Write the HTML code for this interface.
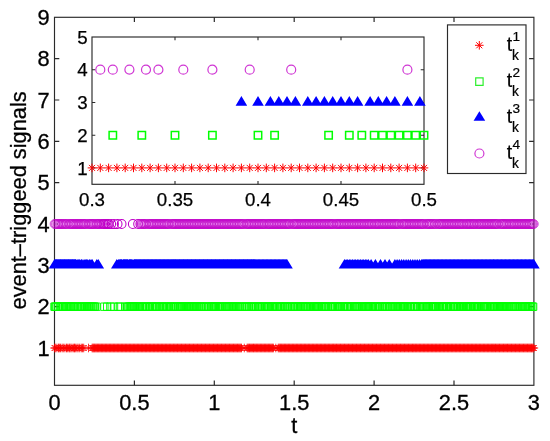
<!DOCTYPE html>
<html><head><meta charset="utf-8"><title>event-triggered signals</title>
<style>html,body{margin:0;padding:0;background:#fff;width:550px;height:441px;overflow:hidden}svg{display:block}</style>
</head><body>
<svg width="550" height="441" viewBox="0 0 550 441">
<rect width="550" height="441" fill="#fff"/>
<path d="M134.4 385.3v-4.8M134.4 17.3v4.8M214.3 385.3v-4.8M214.3 17.3v4.8M294.2 385.3v-4.8M294.2 17.3v4.8M374.1 385.3v-4.8M374.1 17.3v4.8M454 385.3v-4.8M454 17.3v4.8M54.5 348h4.8M533.9 348h-4.8M54.5 306.7h4.8M533.9 306.7h-4.8M54.5 265.3h4.8M533.9 265.3h-4.8M54.5 224h4.8M533.9 224h-4.8M54.5 182.7h4.8M533.9 182.7h-4.8M54.5 141.3h4.8M533.9 141.3h-4.8M54.5 100h4.8M533.9 100h-4.8M54.5 58.6h4.8M533.9 58.6h-4.8" fill="none" stroke="#2a2a2a" stroke-width="1.2"/>
<rect x="54.5" y="17.3" width="479.4" height="368" fill="none" stroke="#2a2a2a" stroke-width="1.15"/>
<path d="M50.1 224a4.4 4.4 0 1 0 8.8 0a4.4 4.4 0 1 0 -8.8 0M50.9 224a4.4 4.4 0 1 0 8.8 0a4.4 4.4 0 1 0 -8.8 0M51.7 224a4.4 4.4 0 1 0 8.8 0a4.4 4.4 0 1 0 -8.8 0M52.9 224a4.4 4.4 0 1 0 8.8 0a4.4 4.4 0 1 0 -8.8 0M53.7 224a4.4 4.4 0 1 0 8.8 0a4.4 4.4 0 1 0 -8.8 0M54.5 224a4.4 4.4 0 1 0 8.8 0a4.4 4.4 0 1 0 -8.8 0M55.3 224a4.4 4.4 0 1 0 8.8 0a4.4 4.4 0 1 0 -8.8 0M56.1 224a4.4 4.4 0 1 0 8.8 0a4.4 4.4 0 1 0 -8.8 0M56.9 224a4.4 4.4 0 1 0 8.8 0a4.4 4.4 0 1 0 -8.8 0M57.7 224a4.4 4.4 0 1 0 8.8 0a4.4 4.4 0 1 0 -8.8 0M58.5 224a4.4 4.4 0 1 0 8.8 0a4.4 4.4 0 1 0 -8.8 0M59.3 224a4.4 4.4 0 1 0 8.8 0a4.4 4.4 0 1 0 -8.8 0M60.5 224a4.4 4.4 0 1 0 8.8 0a4.4 4.4 0 1 0 -8.8 0M61.3 224a4.4 4.4 0 1 0 8.8 0a4.4 4.4 0 1 0 -8.8 0M62.1 224a4.4 4.4 0 1 0 8.8 0a4.4 4.4 0 1 0 -8.8 0M62.9 224a4.4 4.4 0 1 0 8.8 0a4.4 4.4 0 1 0 -8.8 0M64.5 224a4.4 4.4 0 1 0 8.8 0a4.4 4.4 0 1 0 -8.8 0M65.3 224a4.4 4.4 0 1 0 8.8 0a4.4 4.4 0 1 0 -8.8 0M66.1 224a4.4 4.4 0 1 0 8.8 0a4.4 4.4 0 1 0 -8.8 0M66.9 224a4.4 4.4 0 1 0 8.8 0a4.4 4.4 0 1 0 -8.8 0M67.7 224a4.4 4.4 0 1 0 8.8 0a4.4 4.4 0 1 0 -8.8 0M68.5 224a4.4 4.4 0 1 0 8.8 0a4.4 4.4 0 1 0 -8.8 0M69.3 224a4.4 4.4 0 1 0 8.8 0a4.4 4.4 0 1 0 -8.8 0M70.1 224a4.4 4.4 0 1 0 8.8 0a4.4 4.4 0 1 0 -8.8 0M70.9 224a4.4 4.4 0 1 0 8.8 0a4.4 4.4 0 1 0 -8.8 0M71.7 224a4.4 4.4 0 1 0 8.8 0a4.4 4.4 0 1 0 -8.8 0M72.5 224a4.4 4.4 0 1 0 8.8 0a4.4 4.4 0 1 0 -8.8 0M73.3 224a4.4 4.4 0 1 0 8.8 0a4.4 4.4 0 1 0 -8.8 0M74.1 224a4.4 4.4 0 1 0 8.8 0a4.4 4.4 0 1 0 -8.8 0M74.9 224a4.4 4.4 0 1 0 8.8 0a4.4 4.4 0 1 0 -8.8 0M75.7 224a4.4 4.4 0 1 0 8.8 0a4.4 4.4 0 1 0 -8.8 0M76.5 224a4.4 4.4 0 1 0 8.8 0a4.4 4.4 0 1 0 -8.8 0M77.3 224a4.4 4.4 0 1 0 8.8 0a4.4 4.4 0 1 0 -8.8 0M78.1 224a4.4 4.4 0 1 0 8.8 0a4.4 4.4 0 1 0 -8.8 0M78.9 224a4.4 4.4 0 1 0 8.8 0a4.4 4.4 0 1 0 -8.8 0M79.7 224a4.4 4.4 0 1 0 8.8 0a4.4 4.4 0 1 0 -8.8 0M80.5 224a4.4 4.4 0 1 0 8.8 0a4.4 4.4 0 1 0 -8.8 0M81.3 224a4.4 4.4 0 1 0 8.8 0a4.4 4.4 0 1 0 -8.8 0M82.1 224a4.4 4.4 0 1 0 8.8 0a4.4 4.4 0 1 0 -8.8 0M83.7 224a4.4 4.4 0 1 0 8.8 0a4.4 4.4 0 1 0 -8.8 0M84.5 224a4.4 4.4 0 1 0 8.8 0a4.4 4.4 0 1 0 -8.8 0M85.3 224a4.4 4.4 0 1 0 8.8 0a4.4 4.4 0 1 0 -8.8 0M86.1 224a4.4 4.4 0 1 0 8.8 0a4.4 4.4 0 1 0 -8.8 0M86.9 224a4.4 4.4 0 1 0 8.8 0a4.4 4.4 0 1 0 -8.8 0M87.7 224a4.4 4.4 0 1 0 8.8 0a4.4 4.4 0 1 0 -8.8 0M88.5 224a4.4 4.4 0 1 0 8.8 0a4.4 4.4 0 1 0 -8.8 0M89.3 224a4.4 4.4 0 1 0 8.8 0a4.4 4.4 0 1 0 -8.8 0M90 224a4.4 4.4 0 1 0 8.8 0a4.4 4.4 0 1 0 -8.8 0M91.2 224a4.4 4.4 0 1 0 8.8 0a4.4 4.4 0 1 0 -8.8 0M92 224a4.4 4.4 0 1 0 8.8 0a4.4 4.4 0 1 0 -8.8 0M92.8 224a4.4 4.4 0 1 0 8.8 0a4.4 4.4 0 1 0 -8.8 0M93.6 224a4.4 4.4 0 1 0 8.8 0a4.4 4.4 0 1 0 -8.8 0M94.4 224a4.4 4.4 0 1 0 8.8 0a4.4 4.4 0 1 0 -8.8 0M95.2 224a4.4 4.4 0 1 0 8.8 0a4.4 4.4 0 1 0 -8.8 0M96 224a4.4 4.4 0 1 0 8.8 0a4.4 4.4 0 1 0 -8.8 0M96.8 224a4.4 4.4 0 1 0 8.8 0a4.4 4.4 0 1 0 -8.8 0M97.6 224a4.4 4.4 0 1 0 8.8 0a4.4 4.4 0 1 0 -8.8 0M135.6 224a4.4 4.4 0 1 0 8.8 0a4.4 4.4 0 1 0 -8.8 0M136.4 224a4.4 4.4 0 1 0 8.8 0a4.4 4.4 0 1 0 -8.8 0M137.2 224a4.4 4.4 0 1 0 8.8 0a4.4 4.4 0 1 0 -8.8 0M138 224a4.4 4.4 0 1 0 8.8 0a4.4 4.4 0 1 0 -8.8 0M138.8 224a4.4 4.4 0 1 0 8.8 0a4.4 4.4 0 1 0 -8.8 0M139.6 224a4.4 4.4 0 1 0 8.8 0a4.4 4.4 0 1 0 -8.8 0M140.4 224a4.4 4.4 0 1 0 8.8 0a4.4 4.4 0 1 0 -8.8 0M141.2 224a4.4 4.4 0 1 0 8.8 0a4.4 4.4 0 1 0 -8.8 0M142 224a4.4 4.4 0 1 0 8.8 0a4.4 4.4 0 1 0 -8.8 0M143.6 224a4.4 4.4 0 1 0 8.8 0a4.4 4.4 0 1 0 -8.8 0M144.4 224a4.4 4.4 0 1 0 8.8 0a4.4 4.4 0 1 0 -8.8 0M145.2 224a4.4 4.4 0 1 0 8.8 0a4.4 4.4 0 1 0 -8.8 0M146 224a4.4 4.4 0 1 0 8.8 0a4.4 4.4 0 1 0 -8.8 0M146.8 224a4.4 4.4 0 1 0 8.8 0a4.4 4.4 0 1 0 -8.8 0M147.6 224a4.4 4.4 0 1 0 8.8 0a4.4 4.4 0 1 0 -8.8 0M148.4 224a4.4 4.4 0 1 0 8.8 0a4.4 4.4 0 1 0 -8.8 0M149.2 224a4.4 4.4 0 1 0 8.8 0a4.4 4.4 0 1 0 -8.8 0M150 224a4.4 4.4 0 1 0 8.8 0a4.4 4.4 0 1 0 -8.8 0M150.8 224a4.4 4.4 0 1 0 8.8 0a4.4 4.4 0 1 0 -8.8 0M151.6 224a4.4 4.4 0 1 0 8.8 0a4.4 4.4 0 1 0 -8.8 0M152.4 224a4.4 4.4 0 1 0 8.8 0a4.4 4.4 0 1 0 -8.8 0M153.2 224a4.4 4.4 0 1 0 8.8 0a4.4 4.4 0 1 0 -8.8 0M154 224a4.4 4.4 0 1 0 8.8 0a4.4 4.4 0 1 0 -8.8 0M154.8 224a4.4 4.4 0 1 0 8.8 0a4.4 4.4 0 1 0 -8.8 0M155.6 224a4.4 4.4 0 1 0 8.8 0a4.4 4.4 0 1 0 -8.8 0M156.4 224a4.4 4.4 0 1 0 8.8 0a4.4 4.4 0 1 0 -8.8 0M157.2 224a4.4 4.4 0 1 0 8.8 0a4.4 4.4 0 1 0 -8.8 0M158 224a4.4 4.4 0 1 0 8.8 0a4.4 4.4 0 1 0 -8.8 0M158.8 224a4.4 4.4 0 1 0 8.8 0a4.4 4.4 0 1 0 -8.8 0M159.6 224a4.4 4.4 0 1 0 8.8 0a4.4 4.4 0 1 0 -8.8 0M160.4 224a4.4 4.4 0 1 0 8.8 0a4.4 4.4 0 1 0 -8.8 0M161.2 224a4.4 4.4 0 1 0 8.8 0a4.4 4.4 0 1 0 -8.8 0M162 224a4.4 4.4 0 1 0 8.8 0a4.4 4.4 0 1 0 -8.8 0M162.8 224a4.4 4.4 0 1 0 8.8 0a4.4 4.4 0 1 0 -8.8 0M163.6 224a4.4 4.4 0 1 0 8.8 0a4.4 4.4 0 1 0 -8.8 0M164.4 224a4.4 4.4 0 1 0 8.8 0a4.4 4.4 0 1 0 -8.8 0M165.2 224a4.4 4.4 0 1 0 8.8 0a4.4 4.4 0 1 0 -8.8 0M166.8 224a4.4 4.4 0 1 0 8.8 0a4.4 4.4 0 1 0 -8.8 0M167.6 224a4.4 4.4 0 1 0 8.8 0a4.4 4.4 0 1 0 -8.8 0M168.4 224a4.4 4.4 0 1 0 8.8 0a4.4 4.4 0 1 0 -8.8 0M169.2 224a4.4 4.4 0 1 0 8.8 0a4.4 4.4 0 1 0 -8.8 0M169.9 224a4.4 4.4 0 1 0 8.8 0a4.4 4.4 0 1 0 -8.8 0M170.7 224a4.4 4.4 0 1 0 8.8 0a4.4 4.4 0 1 0 -8.8 0M171.5 224a4.4 4.4 0 1 0 8.8 0a4.4 4.4 0 1 0 -8.8 0M172.3 224a4.4 4.4 0 1 0 8.8 0a4.4 4.4 0 1 0 -8.8 0M173.1 224a4.4 4.4 0 1 0 8.8 0a4.4 4.4 0 1 0 -8.8 0M173.9 224a4.4 4.4 0 1 0 8.8 0a4.4 4.4 0 1 0 -8.8 0M174.7 224a4.4 4.4 0 1 0 8.8 0a4.4 4.4 0 1 0 -8.8 0M175.5 224a4.4 4.4 0 1 0 8.8 0a4.4 4.4 0 1 0 -8.8 0M176.3 224a4.4 4.4 0 1 0 8.8 0a4.4 4.4 0 1 0 -8.8 0M177.1 224a4.4 4.4 0 1 0 8.8 0a4.4 4.4 0 1 0 -8.8 0M177.9 224a4.4 4.4 0 1 0 8.8 0a4.4 4.4 0 1 0 -8.8 0M178.7 224a4.4 4.4 0 1 0 8.8 0a4.4 4.4 0 1 0 -8.8 0M179.5 224a4.4 4.4 0 1 0 8.8 0a4.4 4.4 0 1 0 -8.8 0M180.3 224a4.4 4.4 0 1 0 8.8 0a4.4 4.4 0 1 0 -8.8 0M181.1 224a4.4 4.4 0 1 0 8.8 0a4.4 4.4 0 1 0 -8.8 0M181.9 224a4.4 4.4 0 1 0 8.8 0a4.4 4.4 0 1 0 -8.8 0M182.7 224a4.4 4.4 0 1 0 8.8 0a4.4 4.4 0 1 0 -8.8 0M183.5 224a4.4 4.4 0 1 0 8.8 0a4.4 4.4 0 1 0 -8.8 0M184.3 224a4.4 4.4 0 1 0 8.8 0a4.4 4.4 0 1 0 -8.8 0M185.1 224a4.4 4.4 0 1 0 8.8 0a4.4 4.4 0 1 0 -8.8 0M185.9 224a4.4 4.4 0 1 0 8.8 0a4.4 4.4 0 1 0 -8.8 0M186.7 224a4.4 4.4 0 1 0 8.8 0a4.4 4.4 0 1 0 -8.8 0M187.5 224a4.4 4.4 0 1 0 8.8 0a4.4 4.4 0 1 0 -8.8 0M188.3 224a4.4 4.4 0 1 0 8.8 0a4.4 4.4 0 1 0 -8.8 0M189.1 224a4.4 4.4 0 1 0 8.8 0a4.4 4.4 0 1 0 -8.8 0M189.9 224a4.4 4.4 0 1 0 8.8 0a4.4 4.4 0 1 0 -8.8 0M190.7 224a4.4 4.4 0 1 0 8.8 0a4.4 4.4 0 1 0 -8.8 0M191.5 224a4.4 4.4 0 1 0 8.8 0a4.4 4.4 0 1 0 -8.8 0M192.3 224a4.4 4.4 0 1 0 8.8 0a4.4 4.4 0 1 0 -8.8 0M193.1 224a4.4 4.4 0 1 0 8.8 0a4.4 4.4 0 1 0 -8.8 0M193.9 224a4.4 4.4 0 1 0 8.8 0a4.4 4.4 0 1 0 -8.8 0M194.7 224a4.4 4.4 0 1 0 8.8 0a4.4 4.4 0 1 0 -8.8 0M195.5 224a4.4 4.4 0 1 0 8.8 0a4.4 4.4 0 1 0 -8.8 0M196.3 224a4.4 4.4 0 1 0 8.8 0a4.4 4.4 0 1 0 -8.8 0M197.1 224a4.4 4.4 0 1 0 8.8 0a4.4 4.4 0 1 0 -8.8 0M197.9 224a4.4 4.4 0 1 0 8.8 0a4.4 4.4 0 1 0 -8.8 0M198.7 224a4.4 4.4 0 1 0 8.8 0a4.4 4.4 0 1 0 -8.8 0M199.5 224a4.4 4.4 0 1 0 8.8 0a4.4 4.4 0 1 0 -8.8 0M200.3 224a4.4 4.4 0 1 0 8.8 0a4.4 4.4 0 1 0 -8.8 0M201.1 224a4.4 4.4 0 1 0 8.8 0a4.4 4.4 0 1 0 -8.8 0M201.9 224a4.4 4.4 0 1 0 8.8 0a4.4 4.4 0 1 0 -8.8 0M202.7 224a4.4 4.4 0 1 0 8.8 0a4.4 4.4 0 1 0 -8.8 0M203.5 224a4.4 4.4 0 1 0 8.8 0a4.4 4.4 0 1 0 -8.8 0M204.3 224a4.4 4.4 0 1 0 8.8 0a4.4 4.4 0 1 0 -8.8 0M205.1 224a4.4 4.4 0 1 0 8.8 0a4.4 4.4 0 1 0 -8.8 0M205.9 224a4.4 4.4 0 1 0 8.8 0a4.4 4.4 0 1 0 -8.8 0M206.7 224a4.4 4.4 0 1 0 8.8 0a4.4 4.4 0 1 0 -8.8 0M207.5 224a4.4 4.4 0 1 0 8.8 0a4.4 4.4 0 1 0 -8.8 0M208.3 224a4.4 4.4 0 1 0 8.8 0a4.4 4.4 0 1 0 -8.8 0M209.1 224a4.4 4.4 0 1 0 8.8 0a4.4 4.4 0 1 0 -8.8 0M209.9 224a4.4 4.4 0 1 0 8.8 0a4.4 4.4 0 1 0 -8.8 0M210.7 224a4.4 4.4 0 1 0 8.8 0a4.4 4.4 0 1 0 -8.8 0M211.5 224a4.4 4.4 0 1 0 8.8 0a4.4 4.4 0 1 0 -8.8 0M212.3 224a4.4 4.4 0 1 0 8.8 0a4.4 4.4 0 1 0 -8.8 0M213.1 224a4.4 4.4 0 1 0 8.8 0a4.4 4.4 0 1 0 -8.8 0M213.9 224a4.4 4.4 0 1 0 8.8 0a4.4 4.4 0 1 0 -8.8 0M214.7 224a4.4 4.4 0 1 0 8.8 0a4.4 4.4 0 1 0 -8.8 0M215.5 224a4.4 4.4 0 1 0 8.8 0a4.4 4.4 0 1 0 -8.8 0M216.3 224a4.4 4.4 0 1 0 8.8 0a4.4 4.4 0 1 0 -8.8 0M217.1 224a4.4 4.4 0 1 0 8.8 0a4.4 4.4 0 1 0 -8.8 0M217.9 224a4.4 4.4 0 1 0 8.8 0a4.4 4.4 0 1 0 -8.8 0M218.7 224a4.4 4.4 0 1 0 8.8 0a4.4 4.4 0 1 0 -8.8 0M219.5 224a4.4 4.4 0 1 0 8.8 0a4.4 4.4 0 1 0 -8.8 0M220.3 224a4.4 4.4 0 1 0 8.8 0a4.4 4.4 0 1 0 -8.8 0M221.1 224a4.4 4.4 0 1 0 8.8 0a4.4 4.4 0 1 0 -8.8 0M221.9 224a4.4 4.4 0 1 0 8.8 0a4.4 4.4 0 1 0 -8.8 0M222.7 224a4.4 4.4 0 1 0 8.8 0a4.4 4.4 0 1 0 -8.8 0M223.5 224a4.4 4.4 0 1 0 8.8 0a4.4 4.4 0 1 0 -8.8 0M224.3 224a4.4 4.4 0 1 0 8.8 0a4.4 4.4 0 1 0 -8.8 0M225.1 224a4.4 4.4 0 1 0 8.8 0a4.4 4.4 0 1 0 -8.8 0M225.9 224a4.4 4.4 0 1 0 8.8 0a4.4 4.4 0 1 0 -8.8 0M226.7 224a4.4 4.4 0 1 0 8.8 0a4.4 4.4 0 1 0 -8.8 0M227.5 224a4.4 4.4 0 1 0 8.8 0a4.4 4.4 0 1 0 -8.8 0M228.3 224a4.4 4.4 0 1 0 8.8 0a4.4 4.4 0 1 0 -8.8 0M229.1 224a4.4 4.4 0 1 0 8.8 0a4.4 4.4 0 1 0 -8.8 0M229.9 224a4.4 4.4 0 1 0 8.8 0a4.4 4.4 0 1 0 -8.8 0M230.7 224a4.4 4.4 0 1 0 8.8 0a4.4 4.4 0 1 0 -8.8 0M231.5 224a4.4 4.4 0 1 0 8.8 0a4.4 4.4 0 1 0 -8.8 0M232.3 224a4.4 4.4 0 1 0 8.8 0a4.4 4.4 0 1 0 -8.8 0M233.1 224a4.4 4.4 0 1 0 8.8 0a4.4 4.4 0 1 0 -8.8 0M233.9 224a4.4 4.4 0 1 0 8.8 0a4.4 4.4 0 1 0 -8.8 0M234.7 224a4.4 4.4 0 1 0 8.8 0a4.4 4.4 0 1 0 -8.8 0M235.5 224a4.4 4.4 0 1 0 8.8 0a4.4 4.4 0 1 0 -8.8 0M236.3 224a4.4 4.4 0 1 0 8.8 0a4.4 4.4 0 1 0 -8.8 0M237.1 224a4.4 4.4 0 1 0 8.8 0a4.4 4.4 0 1 0 -8.8 0M237.9 224a4.4 4.4 0 1 0 8.8 0a4.4 4.4 0 1 0 -8.8 0M238.7 224a4.4 4.4 0 1 0 8.8 0a4.4 4.4 0 1 0 -8.8 0M239.5 224a4.4 4.4 0 1 0 8.8 0a4.4 4.4 0 1 0 -8.8 0M241.1 224a4.4 4.4 0 1 0 8.8 0a4.4 4.4 0 1 0 -8.8 0M241.9 224a4.4 4.4 0 1 0 8.8 0a4.4 4.4 0 1 0 -8.8 0M242.7 224a4.4 4.4 0 1 0 8.8 0a4.4 4.4 0 1 0 -8.8 0M243.5 224a4.4 4.4 0 1 0 8.8 0a4.4 4.4 0 1 0 -8.8 0M244.3 224a4.4 4.4 0 1 0 8.8 0a4.4 4.4 0 1 0 -8.8 0M245.1 224a4.4 4.4 0 1 0 8.8 0a4.4 4.4 0 1 0 -8.8 0M245.9 224a4.4 4.4 0 1 0 8.8 0a4.4 4.4 0 1 0 -8.8 0M246.7 224a4.4 4.4 0 1 0 8.8 0a4.4 4.4 0 1 0 -8.8 0M247.5 224a4.4 4.4 0 1 0 8.8 0a4.4 4.4 0 1 0 -8.8 0M248.3 224a4.4 4.4 0 1 0 8.8 0a4.4 4.4 0 1 0 -8.8 0M249.1 224a4.4 4.4 0 1 0 8.8 0a4.4 4.4 0 1 0 -8.8 0M249.8 224a4.4 4.4 0 1 0 8.8 0a4.4 4.4 0 1 0 -8.8 0M250.6 224a4.4 4.4 0 1 0 8.8 0a4.4 4.4 0 1 0 -8.8 0M251.4 224a4.4 4.4 0 1 0 8.8 0a4.4 4.4 0 1 0 -8.8 0M252.2 224a4.4 4.4 0 1 0 8.8 0a4.4 4.4 0 1 0 -8.8 0M253 224a4.4 4.4 0 1 0 8.8 0a4.4 4.4 0 1 0 -8.8 0M253.8 224a4.4 4.4 0 1 0 8.8 0a4.4 4.4 0 1 0 -8.8 0M254.6 224a4.4 4.4 0 1 0 8.8 0a4.4 4.4 0 1 0 -8.8 0M255.4 224a4.4 4.4 0 1 0 8.8 0a4.4 4.4 0 1 0 -8.8 0M256.2 224a4.4 4.4 0 1 0 8.8 0a4.4 4.4 0 1 0 -8.8 0M257 224a4.4 4.4 0 1 0 8.8 0a4.4 4.4 0 1 0 -8.8 0M257.8 224a4.4 4.4 0 1 0 8.8 0a4.4 4.4 0 1 0 -8.8 0M258.6 224a4.4 4.4 0 1 0 8.8 0a4.4 4.4 0 1 0 -8.8 0M259.4 224a4.4 4.4 0 1 0 8.8 0a4.4 4.4 0 1 0 -8.8 0M260.2 224a4.4 4.4 0 1 0 8.8 0a4.4 4.4 0 1 0 -8.8 0M261 224a4.4 4.4 0 1 0 8.8 0a4.4 4.4 0 1 0 -8.8 0M262.2 224a4.4 4.4 0 1 0 8.8 0a4.4 4.4 0 1 0 -8.8 0M263 224a4.4 4.4 0 1 0 8.8 0a4.4 4.4 0 1 0 -8.8 0M263.8 224a4.4 4.4 0 1 0 8.8 0a4.4 4.4 0 1 0 -8.8 0M264.6 224a4.4 4.4 0 1 0 8.8 0a4.4 4.4 0 1 0 -8.8 0M265.4 224a4.4 4.4 0 1 0 8.8 0a4.4 4.4 0 1 0 -8.8 0M266.2 224a4.4 4.4 0 1 0 8.8 0a4.4 4.4 0 1 0 -8.8 0M267 224a4.4 4.4 0 1 0 8.8 0a4.4 4.4 0 1 0 -8.8 0M267.8 224a4.4 4.4 0 1 0 8.8 0a4.4 4.4 0 1 0 -8.8 0M268.6 224a4.4 4.4 0 1 0 8.8 0a4.4 4.4 0 1 0 -8.8 0M269.4 224a4.4 4.4 0 1 0 8.8 0a4.4 4.4 0 1 0 -8.8 0M270.2 224a4.4 4.4 0 1 0 8.8 0a4.4 4.4 0 1 0 -8.8 0M271 224a4.4 4.4 0 1 0 8.8 0a4.4 4.4 0 1 0 -8.8 0M271.8 224a4.4 4.4 0 1 0 8.8 0a4.4 4.4 0 1 0 -8.8 0M272.6 224a4.4 4.4 0 1 0 8.8 0a4.4 4.4 0 1 0 -8.8 0M273.4 224a4.4 4.4 0 1 0 8.8 0a4.4 4.4 0 1 0 -8.8 0M274.2 224a4.4 4.4 0 1 0 8.8 0a4.4 4.4 0 1 0 -8.8 0M275 224a4.4 4.4 0 1 0 8.8 0a4.4 4.4 0 1 0 -8.8 0M275.8 224a4.4 4.4 0 1 0 8.8 0a4.4 4.4 0 1 0 -8.8 0M276.6 224a4.4 4.4 0 1 0 8.8 0a4.4 4.4 0 1 0 -8.8 0M277.4 224a4.4 4.4 0 1 0 8.8 0a4.4 4.4 0 1 0 -8.8 0M278.2 224a4.4 4.4 0 1 0 8.8 0a4.4 4.4 0 1 0 -8.8 0M279 224a4.4 4.4 0 1 0 8.8 0a4.4 4.4 0 1 0 -8.8 0M279.8 224a4.4 4.4 0 1 0 8.8 0a4.4 4.4 0 1 0 -8.8 0M280.6 224a4.4 4.4 0 1 0 8.8 0a4.4 4.4 0 1 0 -8.8 0M281.4 224a4.4 4.4 0 1 0 8.8 0a4.4 4.4 0 1 0 -8.8 0M282.2 224a4.4 4.4 0 1 0 8.8 0a4.4 4.4 0 1 0 -8.8 0M283 224a4.4 4.4 0 1 0 8.8 0a4.4 4.4 0 1 0 -8.8 0M283.8 224a4.4 4.4 0 1 0 8.8 0a4.4 4.4 0 1 0 -8.8 0M284.6 224a4.4 4.4 0 1 0 8.8 0a4.4 4.4 0 1 0 -8.8 0M285.4 224a4.4 4.4 0 1 0 8.8 0a4.4 4.4 0 1 0 -8.8 0M286.2 224a4.4 4.4 0 1 0 8.8 0a4.4 4.4 0 1 0 -8.8 0M287.8 224a4.4 4.4 0 1 0 8.8 0a4.4 4.4 0 1 0 -8.8 0M288.6 224a4.4 4.4 0 1 0 8.8 0a4.4 4.4 0 1 0 -8.8 0M289.4 224a4.4 4.4 0 1 0 8.8 0a4.4 4.4 0 1 0 -8.8 0M290.2 224a4.4 4.4 0 1 0 8.8 0a4.4 4.4 0 1 0 -8.8 0M291 224a4.4 4.4 0 1 0 8.8 0a4.4 4.4 0 1 0 -8.8 0M291.8 224a4.4 4.4 0 1 0 8.8 0a4.4 4.4 0 1 0 -8.8 0M292.6 224a4.4 4.4 0 1 0 8.8 0a4.4 4.4 0 1 0 -8.8 0M293.4 224a4.4 4.4 0 1 0 8.8 0a4.4 4.4 0 1 0 -8.8 0M294.2 224a4.4 4.4 0 1 0 8.8 0a4.4 4.4 0 1 0 -8.8 0M295 224a4.4 4.4 0 1 0 8.8 0a4.4 4.4 0 1 0 -8.8 0M295.8 224a4.4 4.4 0 1 0 8.8 0a4.4 4.4 0 1 0 -8.8 0M296.6 224a4.4 4.4 0 1 0 8.8 0a4.4 4.4 0 1 0 -8.8 0M297.4 224a4.4 4.4 0 1 0 8.8 0a4.4 4.4 0 1 0 -8.8 0M298.2 224a4.4 4.4 0 1 0 8.8 0a4.4 4.4 0 1 0 -8.8 0M299 224a4.4 4.4 0 1 0 8.8 0a4.4 4.4 0 1 0 -8.8 0M299.8 224a4.4 4.4 0 1 0 8.8 0a4.4 4.4 0 1 0 -8.8 0M300.6 224a4.4 4.4 0 1 0 8.8 0a4.4 4.4 0 1 0 -8.8 0M301.4 224a4.4 4.4 0 1 0 8.8 0a4.4 4.4 0 1 0 -8.8 0M302.2 224a4.4 4.4 0 1 0 8.8 0a4.4 4.4 0 1 0 -8.8 0M303 224a4.4 4.4 0 1 0 8.8 0a4.4 4.4 0 1 0 -8.8 0M303.8 224a4.4 4.4 0 1 0 8.8 0a4.4 4.4 0 1 0 -8.8 0M304.6 224a4.4 4.4 0 1 0 8.8 0a4.4 4.4 0 1 0 -8.8 0M305.4 224a4.4 4.4 0 1 0 8.8 0a4.4 4.4 0 1 0 -8.8 0M306.2 224a4.4 4.4 0 1 0 8.8 0a4.4 4.4 0 1 0 -8.8 0M307 224a4.4 4.4 0 1 0 8.8 0a4.4 4.4 0 1 0 -8.8 0M307.8 224a4.4 4.4 0 1 0 8.8 0a4.4 4.4 0 1 0 -8.8 0M308.6 224a4.4 4.4 0 1 0 8.8 0a4.4 4.4 0 1 0 -8.8 0M309.4 224a4.4 4.4 0 1 0 8.8 0a4.4 4.4 0 1 0 -8.8 0M310.2 224a4.4 4.4 0 1 0 8.8 0a4.4 4.4 0 1 0 -8.8 0M311 224a4.4 4.4 0 1 0 8.8 0a4.4 4.4 0 1 0 -8.8 0M311.8 224a4.4 4.4 0 1 0 8.8 0a4.4 4.4 0 1 0 -8.8 0M312.6 224a4.4 4.4 0 1 0 8.8 0a4.4 4.4 0 1 0 -8.8 0M313.4 224a4.4 4.4 0 1 0 8.8 0a4.4 4.4 0 1 0 -8.8 0M314.2 224a4.4 4.4 0 1 0 8.8 0a4.4 4.4 0 1 0 -8.8 0M315 224a4.4 4.4 0 1 0 8.8 0a4.4 4.4 0 1 0 -8.8 0M315.8 224a4.4 4.4 0 1 0 8.8 0a4.4 4.4 0 1 0 -8.8 0M316.6 224a4.4 4.4 0 1 0 8.8 0a4.4 4.4 0 1 0 -8.8 0M317.4 224a4.4 4.4 0 1 0 8.8 0a4.4 4.4 0 1 0 -8.8 0M318.2 224a4.4 4.4 0 1 0 8.8 0a4.4 4.4 0 1 0 -8.8 0M319 224a4.4 4.4 0 1 0 8.8 0a4.4 4.4 0 1 0 -8.8 0M319.8 224a4.4 4.4 0 1 0 8.8 0a4.4 4.4 0 1 0 -8.8 0M320.6 224a4.4 4.4 0 1 0 8.8 0a4.4 4.4 0 1 0 -8.8 0M321.4 224a4.4 4.4 0 1 0 8.8 0a4.4 4.4 0 1 0 -8.8 0M322.2 224a4.4 4.4 0 1 0 8.8 0a4.4 4.4 0 1 0 -8.8 0M323 224a4.4 4.4 0 1 0 8.8 0a4.4 4.4 0 1 0 -8.8 0M323.8 224a4.4 4.4 0 1 0 8.8 0a4.4 4.4 0 1 0 -8.8 0M324.6 224a4.4 4.4 0 1 0 8.8 0a4.4 4.4 0 1 0 -8.8 0M325.4 224a4.4 4.4 0 1 0 8.8 0a4.4 4.4 0 1 0 -8.8 0M326.2 224a4.4 4.4 0 1 0 8.8 0a4.4 4.4 0 1 0 -8.8 0M327 224a4.4 4.4 0 1 0 8.8 0a4.4 4.4 0 1 0 -8.8 0M327.8 224a4.4 4.4 0 1 0 8.8 0a4.4 4.4 0 1 0 -8.8 0M328.6 224a4.4 4.4 0 1 0 8.8 0a4.4 4.4 0 1 0 -8.8 0M329.4 224a4.4 4.4 0 1 0 8.8 0a4.4 4.4 0 1 0 -8.8 0M330.9 224a4.4 4.4 0 1 0 8.8 0a4.4 4.4 0 1 0 -8.8 0M331.7 224a4.4 4.4 0 1 0 8.8 0a4.4 4.4 0 1 0 -8.8 0M332.5 224a4.4 4.4 0 1 0 8.8 0a4.4 4.4 0 1 0 -8.8 0M333.3 224a4.4 4.4 0 1 0 8.8 0a4.4 4.4 0 1 0 -8.8 0M334.1 224a4.4 4.4 0 1 0 8.8 0a4.4 4.4 0 1 0 -8.8 0M334.9 224a4.4 4.4 0 1 0 8.8 0a4.4 4.4 0 1 0 -8.8 0M335.7 224a4.4 4.4 0 1 0 8.8 0a4.4 4.4 0 1 0 -8.8 0M336.5 224a4.4 4.4 0 1 0 8.8 0a4.4 4.4 0 1 0 -8.8 0M337.3 224a4.4 4.4 0 1 0 8.8 0a4.4 4.4 0 1 0 -8.8 0M338.1 224a4.4 4.4 0 1 0 8.8 0a4.4 4.4 0 1 0 -8.8 0M338.9 224a4.4 4.4 0 1 0 8.8 0a4.4 4.4 0 1 0 -8.8 0M339.7 224a4.4 4.4 0 1 0 8.8 0a4.4 4.4 0 1 0 -8.8 0M340.5 224a4.4 4.4 0 1 0 8.8 0a4.4 4.4 0 1 0 -8.8 0M341.3 224a4.4 4.4 0 1 0 8.8 0a4.4 4.4 0 1 0 -8.8 0M342.1 224a4.4 4.4 0 1 0 8.8 0a4.4 4.4 0 1 0 -8.8 0M342.9 224a4.4 4.4 0 1 0 8.8 0a4.4 4.4 0 1 0 -8.8 0M343.7 224a4.4 4.4 0 1 0 8.8 0a4.4 4.4 0 1 0 -8.8 0M344.5 224a4.4 4.4 0 1 0 8.8 0a4.4 4.4 0 1 0 -8.8 0M345.3 224a4.4 4.4 0 1 0 8.8 0a4.4 4.4 0 1 0 -8.8 0M346.1 224a4.4 4.4 0 1 0 8.8 0a4.4 4.4 0 1 0 -8.8 0M346.9 224a4.4 4.4 0 1 0 8.8 0a4.4 4.4 0 1 0 -8.8 0M347.7 224a4.4 4.4 0 1 0 8.8 0a4.4 4.4 0 1 0 -8.8 0M348.5 224a4.4 4.4 0 1 0 8.8 0a4.4 4.4 0 1 0 -8.8 0M349.3 224a4.4 4.4 0 1 0 8.8 0a4.4 4.4 0 1 0 -8.8 0M350.1 224a4.4 4.4 0 1 0 8.8 0a4.4 4.4 0 1 0 -8.8 0M350.9 224a4.4 4.4 0 1 0 8.8 0a4.4 4.4 0 1 0 -8.8 0M351.7 224a4.4 4.4 0 1 0 8.8 0a4.4 4.4 0 1 0 -8.8 0M352.5 224a4.4 4.4 0 1 0 8.8 0a4.4 4.4 0 1 0 -8.8 0M353.3 224a4.4 4.4 0 1 0 8.8 0a4.4 4.4 0 1 0 -8.8 0M354.1 224a4.4 4.4 0 1 0 8.8 0a4.4 4.4 0 1 0 -8.8 0M354.9 224a4.4 4.4 0 1 0 8.8 0a4.4 4.4 0 1 0 -8.8 0M355.7 224a4.4 4.4 0 1 0 8.8 0a4.4 4.4 0 1 0 -8.8 0M356.5 224a4.4 4.4 0 1 0 8.8 0a4.4 4.4 0 1 0 -8.8 0M357.3 224a4.4 4.4 0 1 0 8.8 0a4.4 4.4 0 1 0 -8.8 0M358.1 224a4.4 4.4 0 1 0 8.8 0a4.4 4.4 0 1 0 -8.8 0M358.9 224a4.4 4.4 0 1 0 8.8 0a4.4 4.4 0 1 0 -8.8 0M359.7 224a4.4 4.4 0 1 0 8.8 0a4.4 4.4 0 1 0 -8.8 0M360.5 224a4.4 4.4 0 1 0 8.8 0a4.4 4.4 0 1 0 -8.8 0M361.3 224a4.4 4.4 0 1 0 8.8 0a4.4 4.4 0 1 0 -8.8 0M362.1 224a4.4 4.4 0 1 0 8.8 0a4.4 4.4 0 1 0 -8.8 0M362.9 224a4.4 4.4 0 1 0 8.8 0a4.4 4.4 0 1 0 -8.8 0M363.7 224a4.4 4.4 0 1 0 8.8 0a4.4 4.4 0 1 0 -8.8 0M364.5 224a4.4 4.4 0 1 0 8.8 0a4.4 4.4 0 1 0 -8.8 0M365.3 224a4.4 4.4 0 1 0 8.8 0a4.4 4.4 0 1 0 -8.8 0M366.1 224a4.4 4.4 0 1 0 8.8 0a4.4 4.4 0 1 0 -8.8 0M366.9 224a4.4 4.4 0 1 0 8.8 0a4.4 4.4 0 1 0 -8.8 0M367.7 224a4.4 4.4 0 1 0 8.8 0a4.4 4.4 0 1 0 -8.8 0M368.5 224a4.4 4.4 0 1 0 8.8 0a4.4 4.4 0 1 0 -8.8 0M369.7 224a4.4 4.4 0 1 0 8.8 0a4.4 4.4 0 1 0 -8.8 0M370.5 224a4.4 4.4 0 1 0 8.8 0a4.4 4.4 0 1 0 -8.8 0M371.3 224a4.4 4.4 0 1 0 8.8 0a4.4 4.4 0 1 0 -8.8 0M372.1 224a4.4 4.4 0 1 0 8.8 0a4.4 4.4 0 1 0 -8.8 0M372.9 224a4.4 4.4 0 1 0 8.8 0a4.4 4.4 0 1 0 -8.8 0M373.7 224a4.4 4.4 0 1 0 8.8 0a4.4 4.4 0 1 0 -8.8 0M374.5 224a4.4 4.4 0 1 0 8.8 0a4.4 4.4 0 1 0 -8.8 0M375.3 224a4.4 4.4 0 1 0 8.8 0a4.4 4.4 0 1 0 -8.8 0M376.1 224a4.4 4.4 0 1 0 8.8 0a4.4 4.4 0 1 0 -8.8 0M376.9 224a4.4 4.4 0 1 0 8.8 0a4.4 4.4 0 1 0 -8.8 0M377.7 224a4.4 4.4 0 1 0 8.8 0a4.4 4.4 0 1 0 -8.8 0M378.5 224a4.4 4.4 0 1 0 8.8 0a4.4 4.4 0 1 0 -8.8 0M379.3 224a4.4 4.4 0 1 0 8.8 0a4.4 4.4 0 1 0 -8.8 0M380.1 224a4.4 4.4 0 1 0 8.8 0a4.4 4.4 0 1 0 -8.8 0M380.9 224a4.4 4.4 0 1 0 8.8 0a4.4 4.4 0 1 0 -8.8 0M381.7 224a4.4 4.4 0 1 0 8.8 0a4.4 4.4 0 1 0 -8.8 0M382.5 224a4.4 4.4 0 1 0 8.8 0a4.4 4.4 0 1 0 -8.8 0M383.3 224a4.4 4.4 0 1 0 8.8 0a4.4 4.4 0 1 0 -8.8 0M384.1 224a4.4 4.4 0 1 0 8.8 0a4.4 4.4 0 1 0 -8.8 0M384.9 224a4.4 4.4 0 1 0 8.8 0a4.4 4.4 0 1 0 -8.8 0M385.7 224a4.4 4.4 0 1 0 8.8 0a4.4 4.4 0 1 0 -8.8 0M386.5 224a4.4 4.4 0 1 0 8.8 0a4.4 4.4 0 1 0 -8.8 0M387.3 224a4.4 4.4 0 1 0 8.8 0a4.4 4.4 0 1 0 -8.8 0M388.1 224a4.4 4.4 0 1 0 8.8 0a4.4 4.4 0 1 0 -8.8 0M388.9 224a4.4 4.4 0 1 0 8.8 0a4.4 4.4 0 1 0 -8.8 0M389.7 224a4.4 4.4 0 1 0 8.8 0a4.4 4.4 0 1 0 -8.8 0M390.5 224a4.4 4.4 0 1 0 8.8 0a4.4 4.4 0 1 0 -8.8 0M391.3 224a4.4 4.4 0 1 0 8.8 0a4.4 4.4 0 1 0 -8.8 0M392.1 224a4.4 4.4 0 1 0 8.8 0a4.4 4.4 0 1 0 -8.8 0M392.9 224a4.4 4.4 0 1 0 8.8 0a4.4 4.4 0 1 0 -8.8 0M393.7 224a4.4 4.4 0 1 0 8.8 0a4.4 4.4 0 1 0 -8.8 0M394.5 224a4.4 4.4 0 1 0 8.8 0a4.4 4.4 0 1 0 -8.8 0M395.3 224a4.4 4.4 0 1 0 8.8 0a4.4 4.4 0 1 0 -8.8 0M396.9 224a4.4 4.4 0 1 0 8.8 0a4.4 4.4 0 1 0 -8.8 0M397.7 224a4.4 4.4 0 1 0 8.8 0a4.4 4.4 0 1 0 -8.8 0M398.5 224a4.4 4.4 0 1 0 8.8 0a4.4 4.4 0 1 0 -8.8 0M399.3 224a4.4 4.4 0 1 0 8.8 0a4.4 4.4 0 1 0 -8.8 0M400.1 224a4.4 4.4 0 1 0 8.8 0a4.4 4.4 0 1 0 -8.8 0M400.9 224a4.4 4.4 0 1 0 8.8 0a4.4 4.4 0 1 0 -8.8 0M401.7 224a4.4 4.4 0 1 0 8.8 0a4.4 4.4 0 1 0 -8.8 0M402.5 224a4.4 4.4 0 1 0 8.8 0a4.4 4.4 0 1 0 -8.8 0M403.3 224a4.4 4.4 0 1 0 8.8 0a4.4 4.4 0 1 0 -8.8 0M404.1 224a4.4 4.4 0 1 0 8.8 0a4.4 4.4 0 1 0 -8.8 0M404.9 224a4.4 4.4 0 1 0 8.8 0a4.4 4.4 0 1 0 -8.8 0M405.7 224a4.4 4.4 0 1 0 8.8 0a4.4 4.4 0 1 0 -8.8 0M406.5 224a4.4 4.4 0 1 0 8.8 0a4.4 4.4 0 1 0 -8.8 0M407.3 224a4.4 4.4 0 1 0 8.8 0a4.4 4.4 0 1 0 -8.8 0M408.1 224a4.4 4.4 0 1 0 8.8 0a4.4 4.4 0 1 0 -8.8 0M408.9 224a4.4 4.4 0 1 0 8.8 0a4.4 4.4 0 1 0 -8.8 0M409.6 224a4.4 4.4 0 1 0 8.8 0a4.4 4.4 0 1 0 -8.8 0M410.4 224a4.4 4.4 0 1 0 8.8 0a4.4 4.4 0 1 0 -8.8 0M411.2 224a4.4 4.4 0 1 0 8.8 0a4.4 4.4 0 1 0 -8.8 0M412 224a4.4 4.4 0 1 0 8.8 0a4.4 4.4 0 1 0 -8.8 0M412.8 224a4.4 4.4 0 1 0 8.8 0a4.4 4.4 0 1 0 -8.8 0M413.6 224a4.4 4.4 0 1 0 8.8 0a4.4 4.4 0 1 0 -8.8 0M414.4 224a4.4 4.4 0 1 0 8.8 0a4.4 4.4 0 1 0 -8.8 0M415.2 224a4.4 4.4 0 1 0 8.8 0a4.4 4.4 0 1 0 -8.8 0M416 224a4.4 4.4 0 1 0 8.8 0a4.4 4.4 0 1 0 -8.8 0M416.8 224a4.4 4.4 0 1 0 8.8 0a4.4 4.4 0 1 0 -8.8 0M417.6 224a4.4 4.4 0 1 0 8.8 0a4.4 4.4 0 1 0 -8.8 0M418.4 224a4.4 4.4 0 1 0 8.8 0a4.4 4.4 0 1 0 -8.8 0M419.2 224a4.4 4.4 0 1 0 8.8 0a4.4 4.4 0 1 0 -8.8 0M420 224a4.4 4.4 0 1 0 8.8 0a4.4 4.4 0 1 0 -8.8 0M421.6 224a4.4 4.4 0 1 0 8.8 0a4.4 4.4 0 1 0 -8.8 0M422.4 224a4.4 4.4 0 1 0 8.8 0a4.4 4.4 0 1 0 -8.8 0M423.2 224a4.4 4.4 0 1 0 8.8 0a4.4 4.4 0 1 0 -8.8 0M424 224a4.4 4.4 0 1 0 8.8 0a4.4 4.4 0 1 0 -8.8 0M424.8 224a4.4 4.4 0 1 0 8.8 0a4.4 4.4 0 1 0 -8.8 0M425.6 224a4.4 4.4 0 1 0 8.8 0a4.4 4.4 0 1 0 -8.8 0M426.4 224a4.4 4.4 0 1 0 8.8 0a4.4 4.4 0 1 0 -8.8 0M427.2 224a4.4 4.4 0 1 0 8.8 0a4.4 4.4 0 1 0 -8.8 0M428 224a4.4 4.4 0 1 0 8.8 0a4.4 4.4 0 1 0 -8.8 0M428.8 224a4.4 4.4 0 1 0 8.8 0a4.4 4.4 0 1 0 -8.8 0M430 224a4.4 4.4 0 1 0 8.8 0a4.4 4.4 0 1 0 -8.8 0M430.8 224a4.4 4.4 0 1 0 8.8 0a4.4 4.4 0 1 0 -8.8 0M431.6 224a4.4 4.4 0 1 0 8.8 0a4.4 4.4 0 1 0 -8.8 0M433.2 224a4.4 4.4 0 1 0 8.8 0a4.4 4.4 0 1 0 -8.8 0M434 224a4.4 4.4 0 1 0 8.8 0a4.4 4.4 0 1 0 -8.8 0M434.8 224a4.4 4.4 0 1 0 8.8 0a4.4 4.4 0 1 0 -8.8 0M435.6 224a4.4 4.4 0 1 0 8.8 0a4.4 4.4 0 1 0 -8.8 0M436.4 224a4.4 4.4 0 1 0 8.8 0a4.4 4.4 0 1 0 -8.8 0M437.2 224a4.4 4.4 0 1 0 8.8 0a4.4 4.4 0 1 0 -8.8 0M438 224a4.4 4.4 0 1 0 8.8 0a4.4 4.4 0 1 0 -8.8 0M438.8 224a4.4 4.4 0 1 0 8.8 0a4.4 4.4 0 1 0 -8.8 0M439.6 224a4.4 4.4 0 1 0 8.8 0a4.4 4.4 0 1 0 -8.8 0M440.4 224a4.4 4.4 0 1 0 8.8 0a4.4 4.4 0 1 0 -8.8 0M441.2 224a4.4 4.4 0 1 0 8.8 0a4.4 4.4 0 1 0 -8.8 0M442 224a4.4 4.4 0 1 0 8.8 0a4.4 4.4 0 1 0 -8.8 0M442.8 224a4.4 4.4 0 1 0 8.8 0a4.4 4.4 0 1 0 -8.8 0M443.6 224a4.4 4.4 0 1 0 8.8 0a4.4 4.4 0 1 0 -8.8 0M444.4 224a4.4 4.4 0 1 0 8.8 0a4.4 4.4 0 1 0 -8.8 0M445.2 224a4.4 4.4 0 1 0 8.8 0a4.4 4.4 0 1 0 -8.8 0M446 224a4.4 4.4 0 1 0 8.8 0a4.4 4.4 0 1 0 -8.8 0M446.8 224a4.4 4.4 0 1 0 8.8 0a4.4 4.4 0 1 0 -8.8 0M447.6 224a4.4 4.4 0 1 0 8.8 0a4.4 4.4 0 1 0 -8.8 0M448.4 224a4.4 4.4 0 1 0 8.8 0a4.4 4.4 0 1 0 -8.8 0M449.2 224a4.4 4.4 0 1 0 8.8 0a4.4 4.4 0 1 0 -8.8 0M450 224a4.4 4.4 0 1 0 8.8 0a4.4 4.4 0 1 0 -8.8 0M450.8 224a4.4 4.4 0 1 0 8.8 0a4.4 4.4 0 1 0 -8.8 0M451.6 224a4.4 4.4 0 1 0 8.8 0a4.4 4.4 0 1 0 -8.8 0M452.4 224a4.4 4.4 0 1 0 8.8 0a4.4 4.4 0 1 0 -8.8 0M453.2 224a4.4 4.4 0 1 0 8.8 0a4.4 4.4 0 1 0 -8.8 0M454 224a4.4 4.4 0 1 0 8.8 0a4.4 4.4 0 1 0 -8.8 0M454.8 224a4.4 4.4 0 1 0 8.8 0a4.4 4.4 0 1 0 -8.8 0M455.6 224a4.4 4.4 0 1 0 8.8 0a4.4 4.4 0 1 0 -8.8 0M456.4 224a4.4 4.4 0 1 0 8.8 0a4.4 4.4 0 1 0 -8.8 0M457.2 224a4.4 4.4 0 1 0 8.8 0a4.4 4.4 0 1 0 -8.8 0M458 224a4.4 4.4 0 1 0 8.8 0a4.4 4.4 0 1 0 -8.8 0M458.8 224a4.4 4.4 0 1 0 8.8 0a4.4 4.4 0 1 0 -8.8 0M459.6 224a4.4 4.4 0 1 0 8.8 0a4.4 4.4 0 1 0 -8.8 0M460.8 224a4.4 4.4 0 1 0 8.8 0a4.4 4.4 0 1 0 -8.8 0M461.6 224a4.4 4.4 0 1 0 8.8 0a4.4 4.4 0 1 0 -8.8 0M462.4 224a4.4 4.4 0 1 0 8.8 0a4.4 4.4 0 1 0 -8.8 0M463.2 224a4.4 4.4 0 1 0 8.8 0a4.4 4.4 0 1 0 -8.8 0M464 224a4.4 4.4 0 1 0 8.8 0a4.4 4.4 0 1 0 -8.8 0M464.8 224a4.4 4.4 0 1 0 8.8 0a4.4 4.4 0 1 0 -8.8 0M465.6 224a4.4 4.4 0 1 0 8.8 0a4.4 4.4 0 1 0 -8.8 0M466.4 224a4.4 4.4 0 1 0 8.8 0a4.4 4.4 0 1 0 -8.8 0M467.2 224a4.4 4.4 0 1 0 8.8 0a4.4 4.4 0 1 0 -8.8 0M468 224a4.4 4.4 0 1 0 8.8 0a4.4 4.4 0 1 0 -8.8 0M468.8 224a4.4 4.4 0 1 0 8.8 0a4.4 4.4 0 1 0 -8.8 0M469.6 224a4.4 4.4 0 1 0 8.8 0a4.4 4.4 0 1 0 -8.8 0M470.4 224a4.4 4.4 0 1 0 8.8 0a4.4 4.4 0 1 0 -8.8 0M471.2 224a4.4 4.4 0 1 0 8.8 0a4.4 4.4 0 1 0 -8.8 0M472.4 224a4.4 4.4 0 1 0 8.8 0a4.4 4.4 0 1 0 -8.8 0M473.2 224a4.4 4.4 0 1 0 8.8 0a4.4 4.4 0 1 0 -8.8 0M474 224a4.4 4.4 0 1 0 8.8 0a4.4 4.4 0 1 0 -8.8 0M474.8 224a4.4 4.4 0 1 0 8.8 0a4.4 4.4 0 1 0 -8.8 0M475.6 224a4.4 4.4 0 1 0 8.8 0a4.4 4.4 0 1 0 -8.8 0M476.4 224a4.4 4.4 0 1 0 8.8 0a4.4 4.4 0 1 0 -8.8 0M477.2 224a4.4 4.4 0 1 0 8.8 0a4.4 4.4 0 1 0 -8.8 0M478 224a4.4 4.4 0 1 0 8.8 0a4.4 4.4 0 1 0 -8.8 0M478.8 224a4.4 4.4 0 1 0 8.8 0a4.4 4.4 0 1 0 -8.8 0M479.6 224a4.4 4.4 0 1 0 8.8 0a4.4 4.4 0 1 0 -8.8 0M480.4 224a4.4 4.4 0 1 0 8.8 0a4.4 4.4 0 1 0 -8.8 0M481.2 224a4.4 4.4 0 1 0 8.8 0a4.4 4.4 0 1 0 -8.8 0M482 224a4.4 4.4 0 1 0 8.8 0a4.4 4.4 0 1 0 -8.8 0M482.8 224a4.4 4.4 0 1 0 8.8 0a4.4 4.4 0 1 0 -8.8 0M483.6 224a4.4 4.4 0 1 0 8.8 0a4.4 4.4 0 1 0 -8.8 0M484.4 224a4.4 4.4 0 1 0 8.8 0a4.4 4.4 0 1 0 -8.8 0M485.2 224a4.4 4.4 0 1 0 8.8 0a4.4 4.4 0 1 0 -8.8 0M486 224a4.4 4.4 0 1 0 8.8 0a4.4 4.4 0 1 0 -8.8 0M486.8 224a4.4 4.4 0 1 0 8.8 0a4.4 4.4 0 1 0 -8.8 0M487.6 224a4.4 4.4 0 1 0 8.8 0a4.4 4.4 0 1 0 -8.8 0M488.4 224a4.4 4.4 0 1 0 8.8 0a4.4 4.4 0 1 0 -8.8 0M489.2 224a4.4 4.4 0 1 0 8.8 0a4.4 4.4 0 1 0 -8.8 0M489.9 224a4.4 4.4 0 1 0 8.8 0a4.4 4.4 0 1 0 -8.8 0M490.7 224a4.4 4.4 0 1 0 8.8 0a4.4 4.4 0 1 0 -8.8 0M491.5 224a4.4 4.4 0 1 0 8.8 0a4.4 4.4 0 1 0 -8.8 0M492.3 224a4.4 4.4 0 1 0 8.8 0a4.4 4.4 0 1 0 -8.8 0M493.1 224a4.4 4.4 0 1 0 8.8 0a4.4 4.4 0 1 0 -8.8 0M493.9 224a4.4 4.4 0 1 0 8.8 0a4.4 4.4 0 1 0 -8.8 0M495.5 224a4.4 4.4 0 1 0 8.8 0a4.4 4.4 0 1 0 -8.8 0M496.3 224a4.4 4.4 0 1 0 8.8 0a4.4 4.4 0 1 0 -8.8 0M497.1 224a4.4 4.4 0 1 0 8.8 0a4.4 4.4 0 1 0 -8.8 0M497.9 224a4.4 4.4 0 1 0 8.8 0a4.4 4.4 0 1 0 -8.8 0M498.7 224a4.4 4.4 0 1 0 8.8 0a4.4 4.4 0 1 0 -8.8 0M499.5 224a4.4 4.4 0 1 0 8.8 0a4.4 4.4 0 1 0 -8.8 0M500.3 224a4.4 4.4 0 1 0 8.8 0a4.4 4.4 0 1 0 -8.8 0M501.1 224a4.4 4.4 0 1 0 8.8 0a4.4 4.4 0 1 0 -8.8 0M501.9 224a4.4 4.4 0 1 0 8.8 0a4.4 4.4 0 1 0 -8.8 0M502.7 224a4.4 4.4 0 1 0 8.8 0a4.4 4.4 0 1 0 -8.8 0M503.5 224a4.4 4.4 0 1 0 8.8 0a4.4 4.4 0 1 0 -8.8 0M504.7 224a4.4 4.4 0 1 0 8.8 0a4.4 4.4 0 1 0 -8.8 0M505.5 224a4.4 4.4 0 1 0 8.8 0a4.4 4.4 0 1 0 -8.8 0M506.3 224a4.4 4.4 0 1 0 8.8 0a4.4 4.4 0 1 0 -8.8 0M507.1 224a4.4 4.4 0 1 0 8.8 0a4.4 4.4 0 1 0 -8.8 0M507.9 224a4.4 4.4 0 1 0 8.8 0a4.4 4.4 0 1 0 -8.8 0M508.7 224a4.4 4.4 0 1 0 8.8 0a4.4 4.4 0 1 0 -8.8 0M509.5 224a4.4 4.4 0 1 0 8.8 0a4.4 4.4 0 1 0 -8.8 0M510.3 224a4.4 4.4 0 1 0 8.8 0a4.4 4.4 0 1 0 -8.8 0M511.1 224a4.4 4.4 0 1 0 8.8 0a4.4 4.4 0 1 0 -8.8 0M511.9 224a4.4 4.4 0 1 0 8.8 0a4.4 4.4 0 1 0 -8.8 0M512.7 224a4.4 4.4 0 1 0 8.8 0a4.4 4.4 0 1 0 -8.8 0M513.5 224a4.4 4.4 0 1 0 8.8 0a4.4 4.4 0 1 0 -8.8 0M514.3 224a4.4 4.4 0 1 0 8.8 0a4.4 4.4 0 1 0 -8.8 0M515.1 224a4.4 4.4 0 1 0 8.8 0a4.4 4.4 0 1 0 -8.8 0M515.9 224a4.4 4.4 0 1 0 8.8 0a4.4 4.4 0 1 0 -8.8 0M516.7 224a4.4 4.4 0 1 0 8.8 0a4.4 4.4 0 1 0 -8.8 0M517.5 224a4.4 4.4 0 1 0 8.8 0a4.4 4.4 0 1 0 -8.8 0M518.3 224a4.4 4.4 0 1 0 8.8 0a4.4 4.4 0 1 0 -8.8 0M519.1 224a4.4 4.4 0 1 0 8.8 0a4.4 4.4 0 1 0 -8.8 0M519.9 224a4.4 4.4 0 1 0 8.8 0a4.4 4.4 0 1 0 -8.8 0M520.7 224a4.4 4.4 0 1 0 8.8 0a4.4 4.4 0 1 0 -8.8 0M521.5 224a4.4 4.4 0 1 0 8.8 0a4.4 4.4 0 1 0 -8.8 0M522.3 224a4.4 4.4 0 1 0 8.8 0a4.4 4.4 0 1 0 -8.8 0M523.1 224a4.4 4.4 0 1 0 8.8 0a4.4 4.4 0 1 0 -8.8 0M523.9 224a4.4 4.4 0 1 0 8.8 0a4.4 4.4 0 1 0 -8.8 0M524.7 224a4.4 4.4 0 1 0 8.8 0a4.4 4.4 0 1 0 -8.8 0M525.5 224a4.4 4.4 0 1 0 8.8 0a4.4 4.4 0 1 0 -8.8 0M526.3 224a4.4 4.4 0 1 0 8.8 0a4.4 4.4 0 1 0 -8.8 0M527.1 224a4.4 4.4 0 1 0 8.8 0a4.4 4.4 0 1 0 -8.8 0M527.9 224a4.4 4.4 0 1 0 8.8 0a4.4 4.4 0 1 0 -8.8 0M528.7 224a4.4 4.4 0 1 0 8.8 0a4.4 4.4 0 1 0 -8.8 0M529.5 224a4.4 4.4 0 1 0 8.8 0a4.4 4.4 0 1 0 -8.8 0" fill="none" stroke="#c000c8" stroke-width="0.6"/>
<path d="M98.8 224a4.4 4.4 0 1 0 8.8 0a4.4 4.4 0 1 0 -8.8 0M100 224a4.4 4.4 0 1 0 8.8 0a4.4 4.4 0 1 0 -8.8 0M101.6 224a4.4 4.4 0 1 0 8.8 0a4.4 4.4 0 1 0 -8.8 0M103.2 224a4.4 4.4 0 1 0 8.8 0a4.4 4.4 0 1 0 -8.8 0M104.4 224a4.4 4.4 0 1 0 8.8 0a4.4 4.4 0 1 0 -8.8 0M106.8 224a4.4 4.4 0 1 0 8.8 0a4.4 4.4 0 1 0 -8.8 0M109.6 224a4.4 4.4 0 1 0 8.8 0a4.4 4.4 0 1 0 -8.8 0M113.2 224a4.4 4.4 0 1 0 8.8 0a4.4 4.4 0 1 0 -8.8 0M117.2 224a4.4 4.4 0 1 0 8.8 0a4.4 4.4 0 1 0 -8.8 0M128.4 224a4.4 4.4 0 1 0 8.8 0a4.4 4.4 0 1 0 -8.8 0M133.7 224a4.4 4.4 0 1 0 8.8 0a4.4 4.4 0 1 0 -8.8 0" fill="none" stroke="#c000c8" stroke-width="1.05"/>
<path d="M55.5 224H100.6" stroke="#eea6f6" stroke-width="1.3" stroke-dasharray="1.2 1.3" opacity="0.85"/>
<path d="M141 224H532.9" stroke="#eea6f6" stroke-width="1.3" stroke-dasharray="1.2 1.3" opacity="0.85"/>
<path d="M54.5 258.9l5.8 9.6h-11.6zM55.3 258.9l5.8 9.6h-11.6zM56.1 258.9l5.8 9.6h-11.6zM56.9 258.9l5.8 9.6h-11.6zM57.7 258.9l5.8 9.6h-11.6zM58.5 258.9l5.8 9.6h-11.6zM59.3 258.9l5.8 9.6h-11.6zM60.1 258.9l5.8 9.6h-11.6zM60.9 258.9l5.8 9.6h-11.6zM61.7 258.9l5.8 9.6h-11.6zM62.5 258.9l5.8 9.6h-11.6zM63.3 258.9l5.8 9.6h-11.6zM64.1 258.9l5.8 9.6h-11.6zM64.9 258.9l5.8 9.6h-11.6zM65.7 258.9l5.8 9.6h-11.6zM66.5 258.9l5.8 9.6h-11.6zM67.3 258.9l5.8 9.6h-11.6zM68.1 258.9l5.8 9.6h-11.6zM68.9 258.9l5.8 9.6h-11.6zM69.7 258.9l5.8 9.6h-11.6zM70.5 258.9l5.8 9.6h-11.6zM71.3 258.9l5.8 9.6h-11.6zM72.1 258.9l5.8 9.6h-11.6zM72.9 258.9l5.8 9.6h-11.6zM73.7 258.9l5.8 9.6h-11.6zM74.5 258.9l5.8 9.6h-11.6zM75.3 258.9l5.8 9.6h-11.6zM75.8 258.9l5.8 9.6h-11.6zM77.1 258.9l5.8 9.6h-11.6zM78.3 258.9l5.8 9.6h-11.6zM79.5 258.9l5.8 9.6h-11.6zM81.1 258.9l5.8 9.6h-11.6zM82 258.9l5.8 9.6h-11.6zM84 258.9l5.8 9.6h-11.6zM85.2 258.9l5.8 9.6h-11.6zM86.5 258.9l5.8 9.6h-11.6zM87.8 258.9l5.8 9.6h-11.6zM89.5 258.9l5.8 9.6h-11.6zM91 258.9l5.8 9.6h-11.6zM92.2 258.9l5.8 9.6h-11.6zM96.8 258.9l5.8 9.6h-11.6zM98.3 258.9l5.8 9.6h-11.6zM116.8 258.9l5.8 9.6h-11.6zM118.4 258.9l5.8 9.6h-11.6zM119.6 258.9l5.8 9.6h-11.6zM120.4 258.9l5.8 9.6h-11.6zM121.2 258.9l5.8 9.6h-11.6zM122 258.9l5.8 9.6h-11.6zM123.2 258.9l5.8 9.6h-11.6zM124 258.9l5.8 9.6h-11.6zM124.8 258.9l5.8 9.6h-11.6zM125.6 258.9l5.8 9.6h-11.6zM126.4 258.9l5.8 9.6h-11.6zM127.2 258.9l5.8 9.6h-11.6zM128 258.9l5.8 9.6h-11.6zM129.2 258.9l5.8 9.6h-11.6zM130 258.9l5.8 9.6h-11.6zM130.8 258.9l5.8 9.6h-11.6zM131.6 258.9l5.8 9.6h-11.6zM132.8 258.9l5.8 9.6h-11.6zM134 258.9l5.8 9.6h-11.6zM134.4 258.9l5.8 9.6h-11.6zM135.2 258.9l5.8 9.6h-11.6zM136 258.9l5.8 9.6h-11.6zM136.8 258.9l5.8 9.6h-11.6zM137.6 258.9l5.8 9.6h-11.6zM138.4 258.9l5.8 9.6h-11.6zM139.2 258.9l5.8 9.6h-11.6zM140 258.9l5.8 9.6h-11.6zM140.8 258.9l5.8 9.6h-11.6zM141.6 258.9l5.8 9.6h-11.6zM142.4 258.9l5.8 9.6h-11.6zM143.2 258.9l5.8 9.6h-11.6zM144 258.9l5.8 9.6h-11.6zM144.8 258.9l5.8 9.6h-11.6zM145.6 258.9l5.8 9.6h-11.6zM146.4 258.9l5.8 9.6h-11.6zM147.2 258.9l5.8 9.6h-11.6zM148 258.9l5.8 9.6h-11.6zM148.8 258.9l5.8 9.6h-11.6zM149.6 258.9l5.8 9.6h-11.6zM150.4 258.9l5.8 9.6h-11.6zM151.2 258.9l5.8 9.6h-11.6zM152 258.9l5.8 9.6h-11.6zM152.8 258.9l5.8 9.6h-11.6zM153.6 258.9l5.8 9.6h-11.6zM154.4 258.9l5.8 9.6h-11.6zM155.2 258.9l5.8 9.6h-11.6zM156 258.9l5.8 9.6h-11.6zM156.8 258.9l5.8 9.6h-11.6zM157.6 258.9l5.8 9.6h-11.6zM158.4 258.9l5.8 9.6h-11.6zM159.2 258.9l5.8 9.6h-11.6zM160 258.9l5.8 9.6h-11.6zM160.8 258.9l5.8 9.6h-11.6zM161.6 258.9l5.8 9.6h-11.6zM162.4 258.9l5.8 9.6h-11.6zM163.2 258.9l5.8 9.6h-11.6zM164 258.9l5.8 9.6h-11.6zM164.8 258.9l5.8 9.6h-11.6zM165.6 258.9l5.8 9.6h-11.6zM166.4 258.9l5.8 9.6h-11.6zM167.2 258.9l5.8 9.6h-11.6zM168 258.9l5.8 9.6h-11.6zM168.8 258.9l5.8 9.6h-11.6zM169.6 258.9l5.8 9.6h-11.6zM170.4 258.9l5.8 9.6h-11.6zM171.2 258.9l5.8 9.6h-11.6zM172 258.9l5.8 9.6h-11.6zM172.8 258.9l5.8 9.6h-11.6zM173.6 258.9l5.8 9.6h-11.6zM174.3 258.9l5.8 9.6h-11.6zM175.1 258.9l5.8 9.6h-11.6zM175.9 258.9l5.8 9.6h-11.6zM176.7 258.9l5.8 9.6h-11.6zM177.5 258.9l5.8 9.6h-11.6zM178.3 258.9l5.8 9.6h-11.6zM179.1 258.9l5.8 9.6h-11.6zM179.9 258.9l5.8 9.6h-11.6zM180.7 258.9l5.8 9.6h-11.6zM181.5 258.9l5.8 9.6h-11.6zM182.3 258.9l5.8 9.6h-11.6zM183.1 258.9l5.8 9.6h-11.6zM183.9 258.9l5.8 9.6h-11.6zM184.7 258.9l5.8 9.6h-11.6zM185.5 258.9l5.8 9.6h-11.6zM186.3 258.9l5.8 9.6h-11.6zM187.1 258.9l5.8 9.6h-11.6zM187.9 258.9l5.8 9.6h-11.6zM188.7 258.9l5.8 9.6h-11.6zM189.5 258.9l5.8 9.6h-11.6zM190.3 258.9l5.8 9.6h-11.6zM191.1 258.9l5.8 9.6h-11.6zM191.9 258.9l5.8 9.6h-11.6zM192.7 258.9l5.8 9.6h-11.6zM193.5 258.9l5.8 9.6h-11.6zM194.3 258.9l5.8 9.6h-11.6zM195.1 258.9l5.8 9.6h-11.6zM195.9 258.9l5.8 9.6h-11.6zM196.7 258.9l5.8 9.6h-11.6zM197.5 258.9l5.8 9.6h-11.6zM198.3 258.9l5.8 9.6h-11.6zM199.1 258.9l5.8 9.6h-11.6zM199.9 258.9l5.8 9.6h-11.6zM200.7 258.9l5.8 9.6h-11.6zM201.5 258.9l5.8 9.6h-11.6zM202.3 258.9l5.8 9.6h-11.6zM203.1 258.9l5.8 9.6h-11.6zM203.9 258.9l5.8 9.6h-11.6zM204.7 258.9l5.8 9.6h-11.6zM205.5 258.9l5.8 9.6h-11.6zM206.3 258.9l5.8 9.6h-11.6zM207.1 258.9l5.8 9.6h-11.6zM207.9 258.9l5.8 9.6h-11.6zM208.7 258.9l5.8 9.6h-11.6zM209.5 258.9l5.8 9.6h-11.6zM210.3 258.9l5.8 9.6h-11.6zM211.1 258.9l5.8 9.6h-11.6zM211.9 258.9l5.8 9.6h-11.6zM212.7 258.9l5.8 9.6h-11.6zM213.5 258.9l5.8 9.6h-11.6zM214.3 258.9l5.8 9.6h-11.6zM215.1 258.9l5.8 9.6h-11.6zM215.9 258.9l5.8 9.6h-11.6zM216.7 258.9l5.8 9.6h-11.6zM217.5 258.9l5.8 9.6h-11.6zM218.3 258.9l5.8 9.6h-11.6zM219.1 258.9l5.8 9.6h-11.6zM219.9 258.9l5.8 9.6h-11.6zM220.7 258.9l5.8 9.6h-11.6zM221.5 258.9l5.8 9.6h-11.6zM222.3 258.9l5.8 9.6h-11.6zM223.1 258.9l5.8 9.6h-11.6zM223.9 258.9l5.8 9.6h-11.6zM224.7 258.9l5.8 9.6h-11.6zM225.5 258.9l5.8 9.6h-11.6zM226.3 258.9l5.8 9.6h-11.6zM227.1 258.9l5.8 9.6h-11.6zM227.9 258.9l5.8 9.6h-11.6zM228.7 258.9l5.8 9.6h-11.6zM229.5 258.9l5.8 9.6h-11.6zM230.3 258.9l5.8 9.6h-11.6zM231.1 258.9l5.8 9.6h-11.6zM231.9 258.9l5.8 9.6h-11.6zM232.7 258.9l5.8 9.6h-11.6zM233.5 258.9l5.8 9.6h-11.6zM234.3 258.9l5.8 9.6h-11.6zM235.1 258.9l5.8 9.6h-11.6zM235.9 258.9l5.8 9.6h-11.6zM236.7 258.9l5.8 9.6h-11.6zM237.5 258.9l5.8 9.6h-11.6zM238.3 258.9l5.8 9.6h-11.6zM239.1 258.9l5.8 9.6h-11.6zM239.9 258.9l5.8 9.6h-11.6zM240.7 258.9l5.8 9.6h-11.6zM241.5 258.9l5.8 9.6h-11.6zM242.3 258.9l5.8 9.6h-11.6zM243.1 258.9l5.8 9.6h-11.6zM243.9 258.9l5.8 9.6h-11.6zM244.7 258.9l5.8 9.6h-11.6zM245.5 258.9l5.8 9.6h-11.6zM246.3 258.9l5.8 9.6h-11.6zM247.1 258.9l5.8 9.6h-11.6zM247.9 258.9l5.8 9.6h-11.6zM248.7 258.9l5.8 9.6h-11.6zM249.5 258.9l5.8 9.6h-11.6zM250.3 258.9l5.8 9.6h-11.6zM251.1 258.9l5.8 9.6h-11.6zM251.9 258.9l5.8 9.6h-11.6zM252.7 258.9l5.8 9.6h-11.6zM253.5 258.9l5.8 9.6h-11.6zM254.2 258.9l5.8 9.6h-11.6zM255 258.9l5.8 9.6h-11.6zM255.8 258.9l5.8 9.6h-11.6zM256.6 258.9l5.8 9.6h-11.6zM257.4 258.9l5.8 9.6h-11.6zM258.2 258.9l5.8 9.6h-11.6zM259 258.9l5.8 9.6h-11.6zM259.8 258.9l5.8 9.6h-11.6zM260.6 258.9l5.8 9.6h-11.6zM261.4 258.9l5.8 9.6h-11.6zM262.2 258.9l5.8 9.6h-11.6zM263 258.9l5.8 9.6h-11.6zM263.8 258.9l5.8 9.6h-11.6zM264.6 258.9l5.8 9.6h-11.6zM265.4 258.9l5.8 9.6h-11.6zM266.2 258.9l5.8 9.6h-11.6zM267 258.9l5.8 9.6h-11.6zM267.8 258.9l5.8 9.6h-11.6zM268.6 258.9l5.8 9.6h-11.6zM269.4 258.9l5.8 9.6h-11.6zM270.2 258.9l5.8 9.6h-11.6zM271 258.9l5.8 9.6h-11.6zM271.8 258.9l5.8 9.6h-11.6zM272.6 258.9l5.8 9.6h-11.6zM273.4 258.9l5.8 9.6h-11.6zM274.2 258.9l5.8 9.6h-11.6zM275 258.9l5.8 9.6h-11.6zM275.8 258.9l5.8 9.6h-11.6zM276.6 258.9l5.8 9.6h-11.6zM277.4 258.9l5.8 9.6h-11.6zM278.2 258.9l5.8 9.6h-11.6zM279 258.9l5.8 9.6h-11.6zM279.8 258.9l5.8 9.6h-11.6zM280.6 258.9l5.8 9.6h-11.6zM281.4 258.9l5.8 9.6h-11.6zM282.2 258.9l5.8 9.6h-11.6zM283 258.9l5.8 9.6h-11.6zM283.8 258.9l5.8 9.6h-11.6zM284.6 258.9l5.8 9.6h-11.6zM285.4 258.9l5.8 9.6h-11.6zM286.2 258.9l5.8 9.6h-11.6zM287 258.9l5.8 9.6h-11.6zM344.5 258.9l5.8 9.6h-11.6zM346.1 258.9l5.8 9.6h-11.6zM347.7 258.9l5.8 9.6h-11.6zM349.3 258.9l5.8 9.6h-11.6zM350.9 258.9l5.8 9.6h-11.6zM352.5 258.9l5.8 9.6h-11.6zM354.1 258.9l5.8 9.6h-11.6zM355.7 258.9l5.8 9.6h-11.6zM357.3 258.9l5.8 9.6h-11.6zM358.9 258.9l5.8 9.6h-11.6zM360.5 258.9l5.8 9.6h-11.6zM362.1 258.9l5.8 9.6h-11.6zM363.7 258.9l5.8 9.6h-11.6zM365.3 258.9l5.8 9.6h-11.6zM366.9 258.9l5.8 9.6h-11.6zM368.5 258.9l5.8 9.6h-11.6zM371.1 258.9l5.8 9.6h-11.6zM375.4 258.9l5.8 9.6h-11.6zM380.5 258.9l5.8 9.6h-11.6zM385 258.9l5.8 9.6h-11.6zM389.3 258.9l5.8 9.6h-11.6zM394.9 258.9l5.8 9.6h-11.6zM397.1 258.9l5.8 9.6h-11.6zM399.3 258.9l5.8 9.6h-11.6zM401.6 258.9l5.8 9.6h-11.6zM403.8 258.9l5.8 9.6h-11.6zM406.1 258.9l5.8 9.6h-11.6zM408.3 258.9l5.8 9.6h-11.6zM410.5 258.9l5.8 9.6h-11.6zM412.8 258.9l5.8 9.6h-11.6zM415 258.9l5.8 9.6h-11.6zM417.2 258.9l5.8 9.6h-11.6zM419.5 258.9l5.8 9.6h-11.6zM421.7 258.9l5.8 9.6h-11.6zM422.8 258.9l5.8 9.6h-11.6zM423.6 258.9l5.8 9.6h-11.6zM424.4 258.9l5.8 9.6h-11.6zM425.2 258.9l5.8 9.6h-11.6zM426 258.9l5.8 9.6h-11.6zM426.8 258.9l5.8 9.6h-11.6zM427.6 258.9l5.8 9.6h-11.6zM428.4 258.9l5.8 9.6h-11.6zM429.2 258.9l5.8 9.6h-11.6zM430 258.9l5.8 9.6h-11.6zM430.8 258.9l5.8 9.6h-11.6zM431.6 258.9l5.8 9.6h-11.6zM432.4 258.9l5.8 9.6h-11.6zM433.2 258.9l5.8 9.6h-11.6zM434 258.9l5.8 9.6h-11.6zM434.8 258.9l5.8 9.6h-11.6zM435.6 258.9l5.8 9.6h-11.6zM436.4 258.9l5.8 9.6h-11.6zM437.2 258.9l5.8 9.6h-11.6zM438 258.9l5.8 9.6h-11.6zM438.8 258.9l5.8 9.6h-11.6zM439.6 258.9l5.8 9.6h-11.6zM440.4 258.9l5.8 9.6h-11.6zM441.2 258.9l5.8 9.6h-11.6zM442 258.9l5.8 9.6h-11.6zM442.8 258.9l5.8 9.6h-11.6zM443.6 258.9l5.8 9.6h-11.6zM444.4 258.9l5.8 9.6h-11.6zM445.2 258.9l5.8 9.6h-11.6zM446 258.9l5.8 9.6h-11.6zM446.8 258.9l5.8 9.6h-11.6zM447.6 258.9l5.8 9.6h-11.6zM448.4 258.9l5.8 9.6h-11.6zM449.2 258.9l5.8 9.6h-11.6zM450 258.9l5.8 9.6h-11.6zM450.8 258.9l5.8 9.6h-11.6zM451.6 258.9l5.8 9.6h-11.6zM452.4 258.9l5.8 9.6h-11.6zM453.2 258.9l5.8 9.6h-11.6zM454 258.9l5.8 9.6h-11.6zM454.8 258.9l5.8 9.6h-11.6zM455.6 258.9l5.8 9.6h-11.6zM456.4 258.9l5.8 9.6h-11.6zM457.2 258.9l5.8 9.6h-11.6zM458 258.9l5.8 9.6h-11.6zM458.8 258.9l5.8 9.6h-11.6zM459.6 258.9l5.8 9.6h-11.6zM460.4 258.9l5.8 9.6h-11.6zM461.2 258.9l5.8 9.6h-11.6zM462 258.9l5.8 9.6h-11.6zM462.8 258.9l5.8 9.6h-11.6zM463.6 258.9l5.8 9.6h-11.6zM464.4 258.9l5.8 9.6h-11.6zM465.2 258.9l5.8 9.6h-11.6zM466 258.9l5.8 9.6h-11.6zM466.8 258.9l5.8 9.6h-11.6zM467.6 258.9l5.8 9.6h-11.6zM468.4 258.9l5.8 9.6h-11.6zM469.2 258.9l5.8 9.6h-11.6zM470 258.9l5.8 9.6h-11.6zM470.8 258.9l5.8 9.6h-11.6zM471.6 258.9l5.8 9.6h-11.6zM472.4 258.9l5.8 9.6h-11.6zM473.2 258.9l5.8 9.6h-11.6zM474 258.9l5.8 9.6h-11.6zM474.8 258.9l5.8 9.6h-11.6zM475.6 258.9l5.8 9.6h-11.6zM476.4 258.9l5.8 9.6h-11.6zM477.2 258.9l5.8 9.6h-11.6zM478 258.9l5.8 9.6h-11.6zM478.8 258.9l5.8 9.6h-11.6zM479.6 258.9l5.8 9.6h-11.6zM480.4 258.9l5.8 9.6h-11.6zM481.2 258.9l5.8 9.6h-11.6zM482 258.9l5.8 9.6h-11.6zM482.8 258.9l5.8 9.6h-11.6zM483.6 258.9l5.8 9.6h-11.6zM484.4 258.9l5.8 9.6h-11.6zM485.2 258.9l5.8 9.6h-11.6zM486 258.9l5.8 9.6h-11.6zM486.8 258.9l5.8 9.6h-11.6zM487.6 258.9l5.8 9.6h-11.6zM488.4 258.9l5.8 9.6h-11.6zM489.2 258.9l5.8 9.6h-11.6zM490 258.9l5.8 9.6h-11.6zM490.8 258.9l5.8 9.6h-11.6zM491.6 258.9l5.8 9.6h-11.6zM492.4 258.9l5.8 9.6h-11.6zM493.2 258.9l5.8 9.6h-11.6zM493.9 258.9l5.8 9.6h-11.6zM494.7 258.9l5.8 9.6h-11.6zM495.5 258.9l5.8 9.6h-11.6zM496.3 258.9l5.8 9.6h-11.6zM497.1 258.9l5.8 9.6h-11.6zM497.9 258.9l5.8 9.6h-11.6zM498.7 258.9l5.8 9.6h-11.6zM499.5 258.9l5.8 9.6h-11.6zM500.3 258.9l5.8 9.6h-11.6zM501.1 258.9l5.8 9.6h-11.6zM501.9 258.9l5.8 9.6h-11.6zM502.7 258.9l5.8 9.6h-11.6zM503.5 258.9l5.8 9.6h-11.6zM504.3 258.9l5.8 9.6h-11.6zM505.1 258.9l5.8 9.6h-11.6zM505.9 258.9l5.8 9.6h-11.6zM506.7 258.9l5.8 9.6h-11.6zM507.5 258.9l5.8 9.6h-11.6zM508.3 258.9l5.8 9.6h-11.6zM509.1 258.9l5.8 9.6h-11.6zM509.9 258.9l5.8 9.6h-11.6zM510.7 258.9l5.8 9.6h-11.6zM511.5 258.9l5.8 9.6h-11.6zM512.3 258.9l5.8 9.6h-11.6zM513.1 258.9l5.8 9.6h-11.6zM513.9 258.9l5.8 9.6h-11.6zM514.7 258.9l5.8 9.6h-11.6zM515.5 258.9l5.8 9.6h-11.6zM516.3 258.9l5.8 9.6h-11.6zM517.1 258.9l5.8 9.6h-11.6zM517.9 258.9l5.8 9.6h-11.6zM518.7 258.9l5.8 9.6h-11.6zM519.5 258.9l5.8 9.6h-11.6zM520.3 258.9l5.8 9.6h-11.6zM521.1 258.9l5.8 9.6h-11.6zM521.9 258.9l5.8 9.6h-11.6zM522.7 258.9l5.8 9.6h-11.6zM523.5 258.9l5.8 9.6h-11.6zM524.3 258.9l5.8 9.6h-11.6zM525.1 258.9l5.8 9.6h-11.6zM525.9 258.9l5.8 9.6h-11.6zM526.7 258.9l5.8 9.6h-11.6zM527.5 258.9l5.8 9.6h-11.6zM528.3 258.9l5.8 9.6h-11.6zM529.1 258.9l5.8 9.6h-11.6zM529.9 258.9l5.8 9.6h-11.6zM530.7 258.9l5.8 9.6h-11.6zM531.5 258.9l5.8 9.6h-11.6zM532.3 258.9l5.8 9.6h-11.6zM533.1 258.9l5.8 9.6h-11.6zM533.9 258.9l5.8 9.6h-11.6z" fill="#0000ff" stroke="none"/>
<path d="M50.8 303h7.4v7.4h-7.4zM51.6 303h7.4v7.4h-7.4zM52.4 303h7.4v7.4h-7.4zM54 303h7.4v7.4h-7.4zM54.8 303h7.4v7.4h-7.4zM56.4 303h7.4v7.4h-7.4zM57.6 303h7.4v7.4h-7.4zM59.2 303h7.4v7.4h-7.4zM60 303h7.4v7.4h-7.4zM61.6 303h7.4v7.4h-7.4zM62.4 303h7.4v7.4h-7.4zM63.2 303h7.4v7.4h-7.4zM64.8 303h7.4v7.4h-7.4zM65.6 303h7.4v7.4h-7.4zM66.8 303h7.4v7.4h-7.4zM67.6 303h7.4v7.4h-7.4zM68.8 303h7.4v7.4h-7.4zM70 303h7.4v7.4h-7.4zM71.6 303h7.4v7.4h-7.4zM73.2 303h7.4v7.4h-7.4zM74.4 303h7.4v7.4h-7.4zM76 303h7.4v7.4h-7.4zM77.2 303h7.4v7.4h-7.4zM78.4 303h7.4v7.4h-7.4zM80 303h7.4v7.4h-7.4zM81.6 303h7.4v7.4h-7.4zM82.8 303h7.4v7.4h-7.4zM83.6 303h7.4v7.4h-7.4zM84.8 303h7.4v7.4h-7.4zM85.6 303h7.4v7.4h-7.4zM86.4 303h7.4v7.4h-7.4zM87.2 303h7.4v7.4h-7.4zM88.4 303h7.4v7.4h-7.4zM89.2 303h7.4v7.4h-7.4zM90.4 303h7.4v7.4h-7.4zM91.1 303h7.4v7.4h-7.4zM92.7 303h7.4v7.4h-7.4zM100.7 303h7.4v7.4h-7.4zM103.5 303h7.4v7.4h-7.4zM106.7 303h7.4v7.4h-7.4zM110.3 303h7.4v7.4h-7.4zM114.7 303h7.4v7.4h-7.4zM116.3 303h7.4v7.4h-7.4zM121.5 303h7.4v7.4h-7.4zM123.5 303h7.4v7.4h-7.4zM124.7 303h7.4v7.4h-7.4zM125.9 303h7.4v7.4h-7.4zM126.7 303h7.4v7.4h-7.4zM127.5 303h7.4v7.4h-7.4zM128.3 303h7.4v7.4h-7.4zM129.1 303h7.4v7.4h-7.4zM129.9 303h7.4v7.4h-7.4zM130.7 303h7.4v7.4h-7.4zM131.1 303h7.4v7.4h-7.4zM132.3 303h7.4v7.4h-7.4zM133.9 303h7.4v7.4h-7.4zM135.1 303h7.4v7.4h-7.4zM136.3 303h7.4v7.4h-7.4zM137.9 303h7.4v7.4h-7.4zM139.1 303h7.4v7.4h-7.4zM140.7 303h7.4v7.4h-7.4zM141.9 303h7.4v7.4h-7.4zM143.5 303h7.4v7.4h-7.4zM145.1 303h7.4v7.4h-7.4zM146.3 303h7.4v7.4h-7.4zM147.9 303h7.4v7.4h-7.4zM148.7 303h7.4v7.4h-7.4zM149.9 303h7.4v7.4h-7.4zM151.5 303h7.4v7.4h-7.4zM152.3 303h7.4v7.4h-7.4zM153.5 303h7.4v7.4h-7.4zM155.1 303h7.4v7.4h-7.4zM156.7 303h7.4v7.4h-7.4zM158.3 303h7.4v7.4h-7.4zM159.1 303h7.4v7.4h-7.4zM160.7 303h7.4v7.4h-7.4zM161.9 303h7.4v7.4h-7.4zM163.5 303h7.4v7.4h-7.4zM165.1 303h7.4v7.4h-7.4zM166.7 303h7.4v7.4h-7.4zM167.5 303h7.4v7.4h-7.4zM169.1 303h7.4v7.4h-7.4zM170.6 303h7.4v7.4h-7.4zM171.4 303h7.4v7.4h-7.4zM173 303h7.4v7.4h-7.4zM174.6 303h7.4v7.4h-7.4zM175.8 303h7.4v7.4h-7.4zM177 303h7.4v7.4h-7.4zM177.8 303h7.4v7.4h-7.4zM178.6 303h7.4v7.4h-7.4zM179.8 303h7.4v7.4h-7.4zM181.4 303h7.4v7.4h-7.4zM182.6 303h7.4v7.4h-7.4zM183.4 303h7.4v7.4h-7.4zM184.6 303h7.4v7.4h-7.4zM185.4 303h7.4v7.4h-7.4zM186.6 303h7.4v7.4h-7.4zM187.4 303h7.4v7.4h-7.4zM188.2 303h7.4v7.4h-7.4zM189.4 303h7.4v7.4h-7.4zM190.6 303h7.4v7.4h-7.4zM191.8 303h7.4v7.4h-7.4zM192.6 303h7.4v7.4h-7.4zM193.4 303h7.4v7.4h-7.4zM195 303h7.4v7.4h-7.4zM196.6 303h7.4v7.4h-7.4zM197.4 303h7.4v7.4h-7.4zM198.6 303h7.4v7.4h-7.4zM200.2 303h7.4v7.4h-7.4zM201.8 303h7.4v7.4h-7.4zM203 303h7.4v7.4h-7.4zM204.6 303h7.4v7.4h-7.4zM205.8 303h7.4v7.4h-7.4zM207.4 303h7.4v7.4h-7.4zM208.2 303h7.4v7.4h-7.4zM209 303h7.4v7.4h-7.4zM210.2 303h7.4v7.4h-7.4zM211 303h7.4v7.4h-7.4zM211.8 303h7.4v7.4h-7.4zM212.6 303h7.4v7.4h-7.4zM214.2 303h7.4v7.4h-7.4zM215.8 303h7.4v7.4h-7.4zM216.6 303h7.4v7.4h-7.4zM217.4 303h7.4v7.4h-7.4zM218.6 303h7.4v7.4h-7.4zM219.8 303h7.4v7.4h-7.4zM221.4 303h7.4v7.4h-7.4zM222.6 303h7.4v7.4h-7.4zM223.4 303h7.4v7.4h-7.4zM225 303h7.4v7.4h-7.4zM225.8 303h7.4v7.4h-7.4zM227 303h7.4v7.4h-7.4zM228.2 303h7.4v7.4h-7.4zM229.4 303h7.4v7.4h-7.4zM230.2 303h7.4v7.4h-7.4zM231.4 303h7.4v7.4h-7.4zM232.6 303h7.4v7.4h-7.4zM233.8 303h7.4v7.4h-7.4zM235.4 303h7.4v7.4h-7.4zM236.6 303h7.4v7.4h-7.4zM238.2 303h7.4v7.4h-7.4zM239.8 303h7.4v7.4h-7.4zM241.4 303h7.4v7.4h-7.4zM243 303h7.4v7.4h-7.4zM243.8 303h7.4v7.4h-7.4zM245.4 303h7.4v7.4h-7.4zM247 303h7.4v7.4h-7.4zM248.2 303h7.4v7.4h-7.4zM249.4 303h7.4v7.4h-7.4zM250.9 303h7.4v7.4h-7.4zM252.5 303h7.4v7.4h-7.4zM254.1 303h7.4v7.4h-7.4zM254.9 303h7.4v7.4h-7.4zM256.1 303h7.4v7.4h-7.4zM257.3 303h7.4v7.4h-7.4zM258.5 303h7.4v7.4h-7.4zM260.1 303h7.4v7.4h-7.4zM261.3 303h7.4v7.4h-7.4zM262.9 303h7.4v7.4h-7.4zM264.1 303h7.4v7.4h-7.4zM264.9 303h7.4v7.4h-7.4zM266.1 303h7.4v7.4h-7.4zM267.7 303h7.4v7.4h-7.4zM268.9 303h7.4v7.4h-7.4zM269.7 303h7.4v7.4h-7.4zM270.9 303h7.4v7.4h-7.4zM272.5 303h7.4v7.4h-7.4zM274.1 303h7.4v7.4h-7.4zM275.7 303h7.4v7.4h-7.4zM276.5 303h7.4v7.4h-7.4zM277.3 303h7.4v7.4h-7.4zM278.9 303h7.4v7.4h-7.4zM280.5 303h7.4v7.4h-7.4zM281.7 303h7.4v7.4h-7.4zM282.9 303h7.4v7.4h-7.4zM284.1 303h7.4v7.4h-7.4zM285.7 303h7.4v7.4h-7.4zM286.9 303h7.4v7.4h-7.4zM288.5 303h7.4v7.4h-7.4zM290.1 303h7.4v7.4h-7.4zM291.3 303h7.4v7.4h-7.4zM292.9 303h7.4v7.4h-7.4zM294.1 303h7.4v7.4h-7.4zM294.9 303h7.4v7.4h-7.4zM296.5 303h7.4v7.4h-7.4zM297.3 303h7.4v7.4h-7.4zM298.9 303h7.4v7.4h-7.4zM299.7 303h7.4v7.4h-7.4zM300.9 303h7.4v7.4h-7.4zM302.1 303h7.4v7.4h-7.4zM303.7 303h7.4v7.4h-7.4zM304.9 303h7.4v7.4h-7.4zM306.1 303h7.4v7.4h-7.4zM307.7 303h7.4v7.4h-7.4zM309.3 303h7.4v7.4h-7.4zM310.5 303h7.4v7.4h-7.4zM311.3 303h7.4v7.4h-7.4zM312.5 303h7.4v7.4h-7.4zM313.3 303h7.4v7.4h-7.4zM314.5 303h7.4v7.4h-7.4zM315.7 303h7.4v7.4h-7.4zM317.3 303h7.4v7.4h-7.4zM318.5 303h7.4v7.4h-7.4zM319.7 303h7.4v7.4h-7.4zM320.9 303h7.4v7.4h-7.4zM321.7 303h7.4v7.4h-7.4zM322.5 303h7.4v7.4h-7.4zM324.1 303h7.4v7.4h-7.4zM325.7 303h7.4v7.4h-7.4zM327.3 303h7.4v7.4h-7.4zM328.1 303h7.4v7.4h-7.4zM329.3 303h7.4v7.4h-7.4zM330.8 303h7.4v7.4h-7.4zM331.6 303h7.4v7.4h-7.4zM333.2 303h7.4v7.4h-7.4zM334.4 303h7.4v7.4h-7.4zM335.2 303h7.4v7.4h-7.4zM336.4 303h7.4v7.4h-7.4zM337.2 303h7.4v7.4h-7.4zM338.8 303h7.4v7.4h-7.4zM340 303h7.4v7.4h-7.4zM341.6 303h7.4v7.4h-7.4zM343.2 303h7.4v7.4h-7.4zM344 303h7.4v7.4h-7.4zM344.8 303h7.4v7.4h-7.4zM346.4 303h7.4v7.4h-7.4zM347.6 303h7.4v7.4h-7.4zM348.8 303h7.4v7.4h-7.4zM350.4 303h7.4v7.4h-7.4zM351.2 303h7.4v7.4h-7.4zM352.4 303h7.4v7.4h-7.4zM353.2 303h7.4v7.4h-7.4zM354 303h7.4v7.4h-7.4zM355.2 303h7.4v7.4h-7.4zM356.8 303h7.4v7.4h-7.4zM358.4 303h7.4v7.4h-7.4zM359.2 303h7.4v7.4h-7.4zM360.8 303h7.4v7.4h-7.4zM362 303h7.4v7.4h-7.4zM363.2 303h7.4v7.4h-7.4zM364 303h7.4v7.4h-7.4zM364.8 303h7.4v7.4h-7.4zM365.6 303h7.4v7.4h-7.4zM367.2 303h7.4v7.4h-7.4zM368 303h7.4v7.4h-7.4zM369.2 303h7.4v7.4h-7.4zM370.8 303h7.4v7.4h-7.4zM371.6 303h7.4v7.4h-7.4zM372.8 303h7.4v7.4h-7.4zM374 303h7.4v7.4h-7.4zM375.6 303h7.4v7.4h-7.4zM376.4 303h7.4v7.4h-7.4zM378 303h7.4v7.4h-7.4zM379.2 303h7.4v7.4h-7.4zM380.8 303h7.4v7.4h-7.4zM381.6 303h7.4v7.4h-7.4zM382.8 303h7.4v7.4h-7.4zM384 303h7.4v7.4h-7.4zM385.6 303h7.4v7.4h-7.4zM386.8 303h7.4v7.4h-7.4zM388 303h7.4v7.4h-7.4zM389.2 303h7.4v7.4h-7.4zM390.8 303h7.4v7.4h-7.4zM392 303h7.4v7.4h-7.4zM393.2 303h7.4v7.4h-7.4zM394.4 303h7.4v7.4h-7.4zM396 303h7.4v7.4h-7.4zM397.2 303h7.4v7.4h-7.4zM398 303h7.4v7.4h-7.4zM399.2 303h7.4v7.4h-7.4zM400 303h7.4v7.4h-7.4zM400.8 303h7.4v7.4h-7.4zM401.6 303h7.4v7.4h-7.4zM402.8 303h7.4v7.4h-7.4zM404.4 303h7.4v7.4h-7.4zM406 303h7.4v7.4h-7.4zM407.2 303h7.4v7.4h-7.4zM408.8 303h7.4v7.4h-7.4zM410.3 303h7.4v7.4h-7.4zM411.1 303h7.4v7.4h-7.4zM411.9 303h7.4v7.4h-7.4zM413.5 303h7.4v7.4h-7.4zM414.7 303h7.4v7.4h-7.4zM416.3 303h7.4v7.4h-7.4zM417.9 303h7.4v7.4h-7.4zM419.5 303h7.4v7.4h-7.4zM420.7 303h7.4v7.4h-7.4zM422.3 303h7.4v7.4h-7.4zM423.5 303h7.4v7.4h-7.4zM424.3 303h7.4v7.4h-7.4zM425.1 303h7.4v7.4h-7.4zM426.7 303h7.4v7.4h-7.4zM427.9 303h7.4v7.4h-7.4zM428.7 303h7.4v7.4h-7.4zM429.5 303h7.4v7.4h-7.4zM430.3 303h7.4v7.4h-7.4zM431.1 303h7.4v7.4h-7.4zM432.7 303h7.4v7.4h-7.4zM434.3 303h7.4v7.4h-7.4zM435.1 303h7.4v7.4h-7.4zM436.3 303h7.4v7.4h-7.4zM437.9 303h7.4v7.4h-7.4zM438.7 303h7.4v7.4h-7.4zM439.5 303h7.4v7.4h-7.4zM440.7 303h7.4v7.4h-7.4zM442.3 303h7.4v7.4h-7.4zM443.1 303h7.4v7.4h-7.4zM443.9 303h7.4v7.4h-7.4zM445.5 303h7.4v7.4h-7.4zM446.7 303h7.4v7.4h-7.4zM447.5 303h7.4v7.4h-7.4zM449.1 303h7.4v7.4h-7.4zM449.9 303h7.4v7.4h-7.4zM451.5 303h7.4v7.4h-7.4zM453.1 303h7.4v7.4h-7.4zM454.3 303h7.4v7.4h-7.4zM455.1 303h7.4v7.4h-7.4zM456.7 303h7.4v7.4h-7.4zM457.5 303h7.4v7.4h-7.4zM458.7 303h7.4v7.4h-7.4zM459.5 303h7.4v7.4h-7.4zM460.7 303h7.4v7.4h-7.4zM462.3 303h7.4v7.4h-7.4zM463.5 303h7.4v7.4h-7.4zM464.3 303h7.4v7.4h-7.4zM465.5 303h7.4v7.4h-7.4zM466.3 303h7.4v7.4h-7.4zM467.1 303h7.4v7.4h-7.4zM467.9 303h7.4v7.4h-7.4zM469.5 303h7.4v7.4h-7.4zM470.3 303h7.4v7.4h-7.4zM471.1 303h7.4v7.4h-7.4zM471.9 303h7.4v7.4h-7.4zM473.1 303h7.4v7.4h-7.4zM473.9 303h7.4v7.4h-7.4zM474.7 303h7.4v7.4h-7.4zM475.9 303h7.4v7.4h-7.4zM477.5 303h7.4v7.4h-7.4zM479.1 303h7.4v7.4h-7.4zM480.3 303h7.4v7.4h-7.4zM481.1 303h7.4v7.4h-7.4zM482.3 303h7.4v7.4h-7.4zM483.1 303h7.4v7.4h-7.4zM484.3 303h7.4v7.4h-7.4zM485.9 303h7.4v7.4h-7.4zM487.5 303h7.4v7.4h-7.4zM489.1 303h7.4v7.4h-7.4zM490.2 303h7.4v7.4h-7.4zM491 303h7.4v7.4h-7.4zM492.2 303h7.4v7.4h-7.4zM493.4 303h7.4v7.4h-7.4zM494.2 303h7.4v7.4h-7.4zM495 303h7.4v7.4h-7.4zM495.8 303h7.4v7.4h-7.4zM496.6 303h7.4v7.4h-7.4zM497.4 303h7.4v7.4h-7.4zM498.2 303h7.4v7.4h-7.4zM499 303h7.4v7.4h-7.4zM500.2 303h7.4v7.4h-7.4zM501 303h7.4v7.4h-7.4zM502.6 303h7.4v7.4h-7.4zM503.4 303h7.4v7.4h-7.4zM505 303h7.4v7.4h-7.4zM506.6 303h7.4v7.4h-7.4zM507.8 303h7.4v7.4h-7.4zM509 303h7.4v7.4h-7.4zM509.8 303h7.4v7.4h-7.4zM511 303h7.4v7.4h-7.4zM511.8 303h7.4v7.4h-7.4zM513 303h7.4v7.4h-7.4zM514.2 303h7.4v7.4h-7.4zM515.8 303h7.4v7.4h-7.4zM517 303h7.4v7.4h-7.4zM518.6 303h7.4v7.4h-7.4zM519.8 303h7.4v7.4h-7.4zM521 303h7.4v7.4h-7.4zM522.2 303h7.4v7.4h-7.4zM523 303h7.4v7.4h-7.4zM524.2 303h7.4v7.4h-7.4zM525.4 303h7.4v7.4h-7.4zM526.2 303h7.4v7.4h-7.4zM527 303h7.4v7.4h-7.4zM528.6 303h7.4v7.4h-7.4zM529.4 303h7.4v7.4h-7.4z" fill="none" stroke="#00ff00" stroke-width="0.95"/>
<path d="M50.2 348h8.6M54.5 343.7v8.6M51.5 345l6 6M51.5 351l6 -6M51 348h8.6M55.3 343.7v8.6M52.3 345l6 6M52.3 351l6 -6M52.6 348h8.6M56.9 343.7v8.6M53.9 345l6 6M53.9 351l6 -6M54.2 348h8.6M58.5 343.7v8.6M55.5 345l6 6M55.5 351l6 -6M55 348h8.6M59.3 343.7v8.6M56.3 345l6 6M56.3 351l6 -6M56.2 348h8.6M60.5 343.7v8.6M57.5 345l6 6M57.5 351l6 -6M57.8 348h8.6M62.1 343.7v8.6M59.1 345l6 6M59.1 351l6 -6M59 348h8.6M63.3 343.7v8.6M60.3 345l6 6M60.3 351l6 -6M60.6 348h8.6M64.9 343.7v8.6M61.9 345l6 6M61.9 351l6 -6M62.2 348h8.6M66.5 343.7v8.6M63.5 345l6 6M63.5 351l6 -6M63 348h8.6M67.3 343.7v8.6M64.3 345l6 6M64.3 351l6 -6M64.6 348h8.6M68.9 343.7v8.6M65.9 345l6 6M65.9 351l6 -6M65.4 348h8.6M69.7 343.7v8.6M66.7 345l6 6M66.7 351l6 -6M66.6 348h8.6M70.9 343.7v8.6M67.9 345l6 6M67.9 351l6 -6M67.8 348h8.6M72.1 343.7v8.6M69.1 345l6 6M69.1 351l6 -6M69.4 348h8.6M73.7 343.7v8.6M70.7 345l6 6M70.7 351l6 -6M70.2 348h8.6M74.5 343.7v8.6M71.5 345l6 6M71.5 351l6 -6M71 348h8.6M75.3 343.7v8.6M72.3 345l6 6M72.3 351l6 -6M72.6 348h8.6M76.9 343.7v8.6M73.9 345l6 6M73.9 351l6 -6M73.8 348h8.6M78.1 343.7v8.6M75.1 345l6 6M75.1 351l6 -6M75.4 348h8.6M79.7 343.7v8.6M76.7 345l6 6M76.7 351l6 -6M77 348h8.6M81.3 343.7v8.6M78.3 345l6 6M78.3 351l6 -6M78.2 348h8.6M82.5 343.7v8.6M79.5 345l6 6M79.5 351l6 -6M79.4 348h8.6M83.7 343.7v8.6M80.7 345l6 6M80.7 351l6 -6M84.2 348h8.6M88.5 343.7v8.6M85.5 345l6 6M85.5 351l6 -6M87.8 348h8.6M92.1 343.7v8.6M89.1 345l6 6M89.1 351l6 -6M88.6 348h8.6M92.9 343.7v8.6M89.9 345l6 6M89.9 351l6 -6M89.4 348h8.6M93.7 343.7v8.6M90.7 345l6 6M90.7 351l6 -6M90.1 348h8.6M94.4 343.7v8.6M91.4 345l6 6M91.4 351l6 -6M90.9 348h8.6M95.2 343.7v8.6M92.2 345l6 6M92.2 351l6 -6M91.7 348h8.6M96 343.7v8.6M93 345l6 6M93 351l6 -6M92.5 348h8.6M96.8 343.7v8.6M93.8 345l6 6M93.8 351l6 -6M93.3 348h8.6M97.6 343.7v8.6M94.6 345l6 6M94.6 351l6 -6M94.1 348h8.6M98.4 343.7v8.6M95.4 345l6 6M95.4 351l6 -6M94.9 348h8.6M99.2 343.7v8.6M96.2 345l6 6M96.2 351l6 -6M95.7 348h8.6M100 343.7v8.6M97 345l6 6M97 351l6 -6M96.5 348h8.6M100.8 343.7v8.6M97.8 345l6 6M97.8 351l6 -6M97.3 348h8.6M101.6 343.7v8.6M98.6 345l6 6M98.6 351l6 -6M98.1 348h8.6M102.4 343.7v8.6M99.4 345l6 6M99.4 351l6 -6M98.9 348h8.6M103.2 343.7v8.6M100.2 345l6 6M100.2 351l6 -6M99.7 348h8.6M104 343.7v8.6M101 345l6 6M101 351l6 -6M100.5 348h8.6M104.8 343.7v8.6M101.8 345l6 6M101.8 351l6 -6M101.3 348h8.6M105.6 343.7v8.6M102.6 345l6 6M102.6 351l6 -6M102.1 348h8.6M106.4 343.7v8.6M103.4 345l6 6M103.4 351l6 -6M102.9 348h8.6M107.2 343.7v8.6M104.2 345l6 6M104.2 351l6 -6M103.7 348h8.6M108 343.7v8.6M105 345l6 6M105 351l6 -6M104.5 348h8.6M108.8 343.7v8.6M105.8 345l6 6M105.8 351l6 -6M105.3 348h8.6M109.6 343.7v8.6M106.6 345l6 6M106.6 351l6 -6M106.1 348h8.6M110.4 343.7v8.6M107.4 345l6 6M107.4 351l6 -6M106.9 348h8.6M111.2 343.7v8.6M108.2 345l6 6M108.2 351l6 -6M107.7 348h8.6M112 343.7v8.6M109 345l6 6M109 351l6 -6M108.5 348h8.6M112.8 343.7v8.6M109.8 345l6 6M109.8 351l6 -6M109.3 348h8.6M113.6 343.7v8.6M110.6 345l6 6M110.6 351l6 -6M110.1 348h8.6M114.4 343.7v8.6M111.4 345l6 6M111.4 351l6 -6M110.9 348h8.6M115.2 343.7v8.6M112.2 345l6 6M112.2 351l6 -6M111.7 348h8.6M116 343.7v8.6M113 345l6 6M113 351l6 -6M112.5 348h8.6M116.8 343.7v8.6M113.8 345l6 6M113.8 351l6 -6M113.3 348h8.6M117.6 343.7v8.6M114.6 345l6 6M114.6 351l6 -6M114.1 348h8.6M118.4 343.7v8.6M115.4 345l6 6M115.4 351l6 -6M114.9 348h8.6M119.2 343.7v8.6M116.2 345l6 6M116.2 351l6 -6M115.7 348h8.6M120 343.7v8.6M117 345l6 6M117 351l6 -6M116.5 348h8.6M120.8 343.7v8.6M117.8 345l6 6M117.8 351l6 -6M117.3 348h8.6M121.6 343.7v8.6M118.6 345l6 6M118.6 351l6 -6M118.1 348h8.6M122.4 343.7v8.6M119.4 345l6 6M119.4 351l6 -6M118.9 348h8.6M123.2 343.7v8.6M120.2 345l6 6M120.2 351l6 -6M119.7 348h8.6M124 343.7v8.6M121 345l6 6M121 351l6 -6M120.5 348h8.6M124.8 343.7v8.6M121.8 345l6 6M121.8 351l6 -6M121.3 348h8.6M125.6 343.7v8.6M122.6 345l6 6M122.6 351l6 -6M122.1 348h8.6M126.4 343.7v8.6M123.4 345l6 6M123.4 351l6 -6M122.9 348h8.6M127.2 343.7v8.6M124.2 345l6 6M124.2 351l6 -6M123.7 348h8.6M128 343.7v8.6M125 345l6 6M125 351l6 -6M124.5 348h8.6M128.8 343.7v8.6M125.8 345l6 6M125.8 351l6 -6M125.3 348h8.6M129.6 343.7v8.6M126.6 345l6 6M126.6 351l6 -6M126.1 348h8.6M130.4 343.7v8.6M127.4 345l6 6M127.4 351l6 -6M126.9 348h8.6M131.2 343.7v8.6M128.2 345l6 6M128.2 351l6 -6M127.7 348h8.6M132 343.7v8.6M129 345l6 6M129 351l6 -6M128.5 348h8.6M132.8 343.7v8.6M129.8 345l6 6M129.8 351l6 -6M129.3 348h8.6M133.6 343.7v8.6M130.6 345l6 6M130.6 351l6 -6M130.1 348h8.6M134.4 343.7v8.6M131.4 345l6 6M131.4 351l6 -6M130.9 348h8.6M135.2 343.7v8.6M132.2 345l6 6M132.2 351l6 -6M131.7 348h8.6M136 343.7v8.6M133 345l6 6M133 351l6 -6M132.5 348h8.6M136.8 343.7v8.6M133.8 345l6 6M133.8 351l6 -6M133.3 348h8.6M137.6 343.7v8.6M134.6 345l6 6M134.6 351l6 -6M134.1 348h8.6M138.4 343.7v8.6M135.4 345l6 6M135.4 351l6 -6M134.9 348h8.6M139.2 343.7v8.6M136.2 345l6 6M136.2 351l6 -6M135.7 348h8.6M140 343.7v8.6M137 345l6 6M137 351l6 -6M136.5 348h8.6M140.8 343.7v8.6M137.8 345l6 6M137.8 351l6 -6M137.3 348h8.6M141.6 343.7v8.6M138.6 345l6 6M138.6 351l6 -6M138.1 348h8.6M142.4 343.7v8.6M139.4 345l6 6M139.4 351l6 -6M138.9 348h8.6M143.2 343.7v8.6M140.2 345l6 6M140.2 351l6 -6M139.7 348h8.6M144 343.7v8.6M141 345l6 6M141 351l6 -6M140.5 348h8.6M144.8 343.7v8.6M141.8 345l6 6M141.8 351l6 -6M141.3 348h8.6M145.6 343.7v8.6M142.6 345l6 6M142.6 351l6 -6M142.1 348h8.6M146.4 343.7v8.6M143.4 345l6 6M143.4 351l6 -6M142.9 348h8.6M147.2 343.7v8.6M144.2 345l6 6M144.2 351l6 -6M143.7 348h8.6M148 343.7v8.6M145 345l6 6M145 351l6 -6M144.5 348h8.6M148.8 343.7v8.6M145.8 345l6 6M145.8 351l6 -6M145.3 348h8.6M149.6 343.7v8.6M146.6 345l6 6M146.6 351l6 -6M146.1 348h8.6M150.4 343.7v8.6M147.4 345l6 6M147.4 351l6 -6M146.9 348h8.6M151.2 343.7v8.6M148.2 345l6 6M148.2 351l6 -6M147.7 348h8.6M152 343.7v8.6M149 345l6 6M149 351l6 -6M148.5 348h8.6M152.8 343.7v8.6M149.8 345l6 6M149.8 351l6 -6M149.3 348h8.6M153.6 343.7v8.6M150.6 345l6 6M150.6 351l6 -6M150.1 348h8.6M154.4 343.7v8.6M151.4 345l6 6M151.4 351l6 -6M150.9 348h8.6M155.2 343.7v8.6M152.2 345l6 6M152.2 351l6 -6M151.7 348h8.6M156 343.7v8.6M153 345l6 6M153 351l6 -6M152.5 348h8.6M156.8 343.7v8.6M153.8 345l6 6M153.8 351l6 -6M153.3 348h8.6M157.6 343.7v8.6M154.6 345l6 6M154.6 351l6 -6M154.1 348h8.6M158.4 343.7v8.6M155.4 345l6 6M155.4 351l6 -6M154.9 348h8.6M159.2 343.7v8.6M156.2 345l6 6M156.2 351l6 -6M155.7 348h8.6M160 343.7v8.6M157 345l6 6M157 351l6 -6M156.5 348h8.6M160.8 343.7v8.6M157.8 345l6 6M157.8 351l6 -6M157.3 348h8.6M161.6 343.7v8.6M158.6 345l6 6M158.6 351l6 -6M158.1 348h8.6M162.4 343.7v8.6M159.4 345l6 6M159.4 351l6 -6M158.9 348h8.6M163.2 343.7v8.6M160.2 345l6 6M160.2 351l6 -6M159.7 348h8.6M164 343.7v8.6M161 345l6 6M161 351l6 -6M160.5 348h8.6M164.8 343.7v8.6M161.8 345l6 6M161.8 351l6 -6M161.3 348h8.6M165.6 343.7v8.6M162.6 345l6 6M162.6 351l6 -6M162.1 348h8.6M166.4 343.7v8.6M163.4 345l6 6M163.4 351l6 -6M162.9 348h8.6M167.2 343.7v8.6M164.2 345l6 6M164.2 351l6 -6M163.7 348h8.6M168 343.7v8.6M165 345l6 6M165 351l6 -6M164.5 348h8.6M168.8 343.7v8.6M165.8 345l6 6M165.8 351l6 -6M165.3 348h8.6M169.6 343.7v8.6M166.6 345l6 6M166.6 351l6 -6M166.1 348h8.6M170.4 343.7v8.6M167.4 345l6 6M167.4 351l6 -6M166.9 348h8.6M171.2 343.7v8.6M168.2 345l6 6M168.2 351l6 -6M167.7 348h8.6M172 343.7v8.6M169 345l6 6M169 351l6 -6M168.5 348h8.6M172.8 343.7v8.6M169.8 345l6 6M169.8 351l6 -6M169.3 348h8.6M173.6 343.7v8.6M170.6 345l6 6M170.6 351l6 -6M170 348h8.6M174.3 343.7v8.6M171.3 345l6 6M171.3 351l6 -6M170.8 348h8.6M175.1 343.7v8.6M172.1 345l6 6M172.1 351l6 -6M171.6 348h8.6M175.9 343.7v8.6M172.9 345l6 6M172.9 351l6 -6M172.4 348h8.6M176.7 343.7v8.6M173.7 345l6 6M173.7 351l6 -6M173.2 348h8.6M177.5 343.7v8.6M174.5 345l6 6M174.5 351l6 -6M174 348h8.6M178.3 343.7v8.6M175.3 345l6 6M175.3 351l6 -6M174.8 348h8.6M179.1 343.7v8.6M176.1 345l6 6M176.1 351l6 -6M175.6 348h8.6M179.9 343.7v8.6M176.9 345l6 6M176.9 351l6 -6M176.4 348h8.6M180.7 343.7v8.6M177.7 345l6 6M177.7 351l6 -6M177.2 348h8.6M181.5 343.7v8.6M178.5 345l6 6M178.5 351l6 -6M178 348h8.6M182.3 343.7v8.6M179.3 345l6 6M179.3 351l6 -6M178.8 348h8.6M183.1 343.7v8.6M180.1 345l6 6M180.1 351l6 -6M179.6 348h8.6M183.9 343.7v8.6M180.9 345l6 6M180.9 351l6 -6M180.4 348h8.6M184.7 343.7v8.6M181.7 345l6 6M181.7 351l6 -6M181.2 348h8.6M185.5 343.7v8.6M182.5 345l6 6M182.5 351l6 -6M182 348h8.6M186.3 343.7v8.6M183.3 345l6 6M183.3 351l6 -6M182.8 348h8.6M187.1 343.7v8.6M184.1 345l6 6M184.1 351l6 -6M183.6 348h8.6M187.9 343.7v8.6M184.9 345l6 6M184.9 351l6 -6M184.4 348h8.6M188.7 343.7v8.6M185.7 345l6 6M185.7 351l6 -6M185.2 348h8.6M189.5 343.7v8.6M186.5 345l6 6M186.5 351l6 -6M186 348h8.6M190.3 343.7v8.6M187.3 345l6 6M187.3 351l6 -6M186.8 348h8.6M191.1 343.7v8.6M188.1 345l6 6M188.1 351l6 -6M187.6 348h8.6M191.9 343.7v8.6M188.9 345l6 6M188.9 351l6 -6M188.4 348h8.6M192.7 343.7v8.6M189.7 345l6 6M189.7 351l6 -6M189.2 348h8.6M193.5 343.7v8.6M190.5 345l6 6M190.5 351l6 -6M190 348h8.6M194.3 343.7v8.6M191.3 345l6 6M191.3 351l6 -6M190.8 348h8.6M195.1 343.7v8.6M192.1 345l6 6M192.1 351l6 -6M191.6 348h8.6M195.9 343.7v8.6M192.9 345l6 6M192.9 351l6 -6M192.4 348h8.6M196.7 343.7v8.6M193.7 345l6 6M193.7 351l6 -6M193.2 348h8.6M197.5 343.7v8.6M194.5 345l6 6M194.5 351l6 -6M194 348h8.6M198.3 343.7v8.6M195.3 345l6 6M195.3 351l6 -6M194.8 348h8.6M199.1 343.7v8.6M196.1 345l6 6M196.1 351l6 -6M195.6 348h8.6M199.9 343.7v8.6M196.9 345l6 6M196.9 351l6 -6M196.4 348h8.6M200.7 343.7v8.6M197.7 345l6 6M197.7 351l6 -6M197.2 348h8.6M201.5 343.7v8.6M198.5 345l6 6M198.5 351l6 -6M198 348h8.6M202.3 343.7v8.6M199.3 345l6 6M199.3 351l6 -6M198.8 348h8.6M203.1 343.7v8.6M200.1 345l6 6M200.1 351l6 -6M199.6 348h8.6M203.9 343.7v8.6M200.9 345l6 6M200.9 351l6 -6M200.4 348h8.6M204.7 343.7v8.6M201.7 345l6 6M201.7 351l6 -6M201.2 348h8.6M205.5 343.7v8.6M202.5 345l6 6M202.5 351l6 -6M202 348h8.6M206.3 343.7v8.6M203.3 345l6 6M203.3 351l6 -6M202.8 348h8.6M207.1 343.7v8.6M204.1 345l6 6M204.1 351l6 -6M203.6 348h8.6M207.9 343.7v8.6M204.9 345l6 6M204.9 351l6 -6M204.4 348h8.6M208.7 343.7v8.6M205.7 345l6 6M205.7 351l6 -6M205.2 348h8.6M209.5 343.7v8.6M206.5 345l6 6M206.5 351l6 -6M206 348h8.6M210.3 343.7v8.6M207.3 345l6 6M207.3 351l6 -6M206.8 348h8.6M211.1 343.7v8.6M208.1 345l6 6M208.1 351l6 -6M207.6 348h8.6M211.9 343.7v8.6M208.9 345l6 6M208.9 351l6 -6M208.4 348h8.6M212.7 343.7v8.6M209.7 345l6 6M209.7 351l6 -6M209.2 348h8.6M213.5 343.7v8.6M210.5 345l6 6M210.5 351l6 -6M210 348h8.6M214.3 343.7v8.6M211.3 345l6 6M211.3 351l6 -6M210.8 348h8.6M215.1 343.7v8.6M212.1 345l6 6M212.1 351l6 -6M211.6 348h8.6M215.9 343.7v8.6M212.9 345l6 6M212.9 351l6 -6M212.4 348h8.6M216.7 343.7v8.6M213.7 345l6 6M213.7 351l6 -6M213.2 348h8.6M217.5 343.7v8.6M214.5 345l6 6M214.5 351l6 -6M214 348h8.6M218.3 343.7v8.6M215.3 345l6 6M215.3 351l6 -6M214.8 348h8.6M219.1 343.7v8.6M216.1 345l6 6M216.1 351l6 -6M215.6 348h8.6M219.9 343.7v8.6M216.9 345l6 6M216.9 351l6 -6M216.4 348h8.6M220.7 343.7v8.6M217.7 345l6 6M217.7 351l6 -6M217.2 348h8.6M221.5 343.7v8.6M218.5 345l6 6M218.5 351l6 -6M218 348h8.6M222.3 343.7v8.6M219.3 345l6 6M219.3 351l6 -6M218.8 348h8.6M223.1 343.7v8.6M220.1 345l6 6M220.1 351l6 -6M219.6 348h8.6M223.9 343.7v8.6M220.9 345l6 6M220.9 351l6 -6M220.4 348h8.6M224.7 343.7v8.6M221.7 345l6 6M221.7 351l6 -6M221.2 348h8.6M225.5 343.7v8.6M222.5 345l6 6M222.5 351l6 -6M222 348h8.6M226.3 343.7v8.6M223.3 345l6 6M223.3 351l6 -6M222.8 348h8.6M227.1 343.7v8.6M224.1 345l6 6M224.1 351l6 -6M223.6 348h8.6M227.9 343.7v8.6M224.9 345l6 6M224.9 351l6 -6M224.4 348h8.6M228.7 343.7v8.6M225.7 345l6 6M225.7 351l6 -6M225.2 348h8.6M229.5 343.7v8.6M226.5 345l6 6M226.5 351l6 -6M226 348h8.6M230.3 343.7v8.6M227.3 345l6 6M227.3 351l6 -6M226.8 348h8.6M231.1 343.7v8.6M228.1 345l6 6M228.1 351l6 -6M227.6 348h8.6M231.9 343.7v8.6M228.9 345l6 6M228.9 351l6 -6M228.4 348h8.6M232.7 343.7v8.6M229.7 345l6 6M229.7 351l6 -6M229.2 348h8.6M233.5 343.7v8.6M230.5 345l6 6M230.5 351l6 -6M230 348h8.6M234.3 343.7v8.6M231.3 345l6 6M231.3 351l6 -6M230.8 348h8.6M235.1 343.7v8.6M232.1 345l6 6M232.1 351l6 -6M231.6 348h8.6M235.9 343.7v8.6M232.9 345l6 6M232.9 351l6 -6M232.4 348h8.6M236.7 343.7v8.6M233.7 345l6 6M233.7 351l6 -6M233.2 348h8.6M237.5 343.7v8.6M234.5 345l6 6M234.5 351l6 -6M234 348h8.6M238.3 343.7v8.6M235.3 345l6 6M235.3 351l6 -6M234.8 348h8.6M239.1 343.7v8.6M236.1 345l6 6M236.1 351l6 -6M235.6 348h8.6M239.9 343.7v8.6M236.9 345l6 6M236.9 351l6 -6M236.4 348h8.6M240.7 343.7v8.6M237.7 345l6 6M237.7 351l6 -6M237.2 348h8.6M241.5 343.7v8.6M238.5 345l6 6M238.5 351l6 -6M240 348h8.6M244.3 343.7v8.6M241.3 345l6 6M241.3 351l6 -6M242.8 348h8.6M247.1 343.7v8.6M244.1 345l6 6M244.1 351l6 -6M243.6 348h8.6M247.9 343.7v8.6M244.9 345l6 6M244.9 351l6 -6M244.4 348h8.6M248.7 343.7v8.6M245.7 345l6 6M245.7 351l6 -6M245.2 348h8.6M249.5 343.7v8.6M246.5 345l6 6M246.5 351l6 -6M246 348h8.6M250.3 343.7v8.6M247.3 345l6 6M247.3 351l6 -6M246.8 348h8.6M251.1 343.7v8.6M248.1 345l6 6M248.1 351l6 -6M247.6 348h8.6M251.9 343.7v8.6M248.9 345l6 6M248.9 351l6 -6M248.4 348h8.6M252.7 343.7v8.6M249.7 345l6 6M249.7 351l6 -6M249.2 348h8.6M253.5 343.7v8.6M250.5 345l6 6M250.5 351l6 -6M249.9 348h8.6M254.2 343.7v8.6M251.2 345l6 6M251.2 351l6 -6M250.7 348h8.6M255 343.7v8.6M252 345l6 6M252 351l6 -6M251.5 348h8.6M255.8 343.7v8.6M252.8 345l6 6M252.8 351l6 -6M252.3 348h8.6M256.6 343.7v8.6M253.6 345l6 6M253.6 351l6 -6M253.1 348h8.6M257.4 343.7v8.6M254.4 345l6 6M254.4 351l6 -6M253.9 348h8.6M258.2 343.7v8.6M255.2 345l6 6M255.2 351l6 -6M254.7 348h8.6M259 343.7v8.6M256 345l6 6M256 351l6 -6M255.5 348h8.6M259.8 343.7v8.6M256.8 345l6 6M256.8 351l6 -6M256.3 348h8.6M260.6 343.7v8.6M257.6 345l6 6M257.6 351l6 -6M257.1 348h8.6M261.4 343.7v8.6M258.4 345l6 6M258.4 351l6 -6M257.9 348h8.6M262.2 343.7v8.6M259.2 345l6 6M259.2 351l6 -6M258.7 348h8.6M263 343.7v8.6M260 345l6 6M260 351l6 -6M259.5 348h8.6M263.8 343.7v8.6M260.8 345l6 6M260.8 351l6 -6M260.3 348h8.6M264.6 343.7v8.6M261.6 345l6 6M261.6 351l6 -6M261.1 348h8.6M265.4 343.7v8.6M262.4 345l6 6M262.4 351l6 -6M261.9 348h8.6M266.2 343.7v8.6M263.2 345l6 6M263.2 351l6 -6M262.7 348h8.6M267 343.7v8.6M264 345l6 6M264 351l6 -6M263.5 348h8.6M267.8 343.7v8.6M264.8 345l6 6M264.8 351l6 -6M264.3 348h8.6M268.6 343.7v8.6M265.6 345l6 6M265.6 351l6 -6M265.1 348h8.6M269.4 343.7v8.6M266.4 345l6 6M266.4 351l6 -6M265.9 348h8.6M270.2 343.7v8.6M267.2 345l6 6M267.2 351l6 -6M266.7 348h8.6M271 343.7v8.6M268 345l6 6M268 351l6 -6M267.5 348h8.6M271.8 343.7v8.6M268.8 345l6 6M268.8 351l6 -6M268.3 348h8.6M272.6 343.7v8.6M269.6 345l6 6M269.6 351l6 -6M269.1 348h8.6M273.4 343.7v8.6M270.4 345l6 6M270.4 351l6 -6M271.5 348h8.6M275.8 343.7v8.6M272.8 345l6 6M272.8 351l6 -6M273.9 348h8.6M278.2 343.7v8.6M275.2 345l6 6M275.2 351l6 -6M274.7 348h8.6M279 343.7v8.6M276 345l6 6M276 351l6 -6M275.5 348h8.6M279.8 343.7v8.6M276.8 345l6 6M276.8 351l6 -6M276.3 348h8.6M280.6 343.7v8.6M277.6 345l6 6M277.6 351l6 -6M277.1 348h8.6M281.4 343.7v8.6M278.4 345l6 6M278.4 351l6 -6M277.9 348h8.6M282.2 343.7v8.6M279.2 345l6 6M279.2 351l6 -6M278.7 348h8.6M283 343.7v8.6M280 345l6 6M280 351l6 -6M279.5 348h8.6M283.8 343.7v8.6M280.8 345l6 6M280.8 351l6 -6M280.3 348h8.6M284.6 343.7v8.6M281.6 345l6 6M281.6 351l6 -6M281.1 348h8.6M285.4 343.7v8.6M282.4 345l6 6M282.4 351l6 -6M281.9 348h8.6M286.2 343.7v8.6M283.2 345l6 6M283.2 351l6 -6M282.7 348h8.6M287 343.7v8.6M284 345l6 6M284 351l6 -6M283.5 348h8.6M287.8 343.7v8.6M284.8 345l6 6M284.8 351l6 -6M284.3 348h8.6M288.6 343.7v8.6M285.6 345l6 6M285.6 351l6 -6M285.1 348h8.6M289.4 343.7v8.6M286.4 345l6 6M286.4 351l6 -6M285.9 348h8.6M290.2 343.7v8.6M287.2 345l6 6M287.2 351l6 -6M286.7 348h8.6M291 343.7v8.6M288 345l6 6M288 351l6 -6M287.5 348h8.6M291.8 343.7v8.6M288.8 345l6 6M288.8 351l6 -6M288.3 348h8.6M292.6 343.7v8.6M289.6 345l6 6M289.6 351l6 -6M289.1 348h8.6M293.4 343.7v8.6M290.4 345l6 6M290.4 351l6 -6M289.9 348h8.6M294.2 343.7v8.6M291.2 345l6 6M291.2 351l6 -6M290.7 348h8.6M295 343.7v8.6M292 345l6 6M292 351l6 -6M291.5 348h8.6M295.8 343.7v8.6M292.8 345l6 6M292.8 351l6 -6M292.3 348h8.6M296.6 343.7v8.6M293.6 345l6 6M293.6 351l6 -6M293.1 348h8.6M297.4 343.7v8.6M294.4 345l6 6M294.4 351l6 -6M293.9 348h8.6M298.2 343.7v8.6M295.2 345l6 6M295.2 351l6 -6M294.7 348h8.6M299 343.7v8.6M296 345l6 6M296 351l6 -6M295.5 348h8.6M299.8 343.7v8.6M296.8 345l6 6M296.8 351l6 -6M296.3 348h8.6M300.6 343.7v8.6M297.6 345l6 6M297.6 351l6 -6M297.1 348h8.6M301.4 343.7v8.6M298.4 345l6 6M298.4 351l6 -6M297.9 348h8.6M302.2 343.7v8.6M299.2 345l6 6M299.2 351l6 -6M298.7 348h8.6M303 343.7v8.6M300 345l6 6M300 351l6 -6M299.5 348h8.6M303.8 343.7v8.6M300.8 345l6 6M300.8 351l6 -6M300.3 348h8.6M304.6 343.7v8.6M301.6 345l6 6M301.6 351l6 -6M301.1 348h8.6M305.4 343.7v8.6M302.4 345l6 6M302.4 351l6 -6M301.9 348h8.6M306.2 343.7v8.6M303.2 345l6 6M303.2 351l6 -6M302.7 348h8.6M307 343.7v8.6M304 345l6 6M304 351l6 -6M303.5 348h8.6M307.8 343.7v8.6M304.8 345l6 6M304.8 351l6 -6M304.3 348h8.6M308.6 343.7v8.6M305.6 345l6 6M305.6 351l6 -6M305.1 348h8.6M309.4 343.7v8.6M306.4 345l6 6M306.4 351l6 -6M305.9 348h8.6M310.2 343.7v8.6M307.2 345l6 6M307.2 351l6 -6M306.7 348h8.6M311 343.7v8.6M308 345l6 6M308 351l6 -6M307.5 348h8.6M311.8 343.7v8.6M308.8 345l6 6M308.8 351l6 -6M308.3 348h8.6M312.6 343.7v8.6M309.6 345l6 6M309.6 351l6 -6M309.1 348h8.6M313.4 343.7v8.6M310.4 345l6 6M310.4 351l6 -6M309.9 348h8.6M314.2 343.7v8.6M311.2 345l6 6M311.2 351l6 -6M310.7 348h8.6M315 343.7v8.6M312 345l6 6M312 351l6 -6M311.5 348h8.6M315.8 343.7v8.6M312.8 345l6 6M312.8 351l6 -6M312.3 348h8.6M316.6 343.7v8.6M313.6 345l6 6M313.6 351l6 -6M313.1 348h8.6M317.4 343.7v8.6M314.4 345l6 6M314.4 351l6 -6M313.9 348h8.6M318.2 343.7v8.6M315.2 345l6 6M315.2 351l6 -6M314.7 348h8.6M319 343.7v8.6M316 345l6 6M316 351l6 -6M315.5 348h8.6M319.8 343.7v8.6M316.8 345l6 6M316.8 351l6 -6M316.3 348h8.6M320.6 343.7v8.6M317.6 345l6 6M317.6 351l6 -6M317.1 348h8.6M321.4 343.7v8.6M318.4 345l6 6M318.4 351l6 -6M317.9 348h8.6M322.2 343.7v8.6M319.2 345l6 6M319.2 351l6 -6M318.7 348h8.6M323 343.7v8.6M320 345l6 6M320 351l6 -6M319.5 348h8.6M323.8 343.7v8.6M320.8 345l6 6M320.8 351l6 -6M320.3 348h8.6M324.6 343.7v8.6M321.6 345l6 6M321.6 351l6 -6M321.1 348h8.6M325.4 343.7v8.6M322.4 345l6 6M322.4 351l6 -6M321.9 348h8.6M326.2 343.7v8.6M323.2 345l6 6M323.2 351l6 -6M322.7 348h8.6M327 343.7v8.6M324 345l6 6M324 351l6 -6M323.5 348h8.6M327.8 343.7v8.6M324.8 345l6 6M324.8 351l6 -6M324.3 348h8.6M328.6 343.7v8.6M325.6 345l6 6M325.6 351l6 -6M325.1 348h8.6M329.4 343.7v8.6M326.4 345l6 6M326.4 351l6 -6M325.9 348h8.6M330.2 343.7v8.6M327.2 345l6 6M327.2 351l6 -6M326.7 348h8.6M331 343.7v8.6M328 345l6 6M328 351l6 -6M327.5 348h8.6M331.8 343.7v8.6M328.8 345l6 6M328.8 351l6 -6M328.3 348h8.6M332.6 343.7v8.6M329.6 345l6 6M329.6 351l6 -6M329.1 348h8.6M333.4 343.7v8.6M330.4 345l6 6M330.4 351l6 -6M329.8 348h8.6M334.1 343.7v8.6M331.1 345l6 6M331.1 351l6 -6M330.6 348h8.6M334.9 343.7v8.6M331.9 345l6 6M331.9 351l6 -6M331.4 348h8.6M335.7 343.7v8.6M332.7 345l6 6M332.7 351l6 -6M332.2 348h8.6M336.5 343.7v8.6M333.5 345l6 6M333.5 351l6 -6M333 348h8.6M337.3 343.7v8.6M334.3 345l6 6M334.3 351l6 -6M333.8 348h8.6M338.1 343.7v8.6M335.1 345l6 6M335.1 351l6 -6M334.6 348h8.6M338.9 343.7v8.6M335.9 345l6 6M335.9 351l6 -6M335.4 348h8.6M339.7 343.7v8.6M336.7 345l6 6M336.7 351l6 -6M336.2 348h8.6M340.5 343.7v8.6M337.5 345l6 6M337.5 351l6 -6M337 348h8.6M341.3 343.7v8.6M338.3 345l6 6M338.3 351l6 -6M337.8 348h8.6M342.1 343.7v8.6M339.1 345l6 6M339.1 351l6 -6M338.6 348h8.6M342.9 343.7v8.6M339.9 345l6 6M339.9 351l6 -6M339.4 348h8.6M343.7 343.7v8.6M340.7 345l6 6M340.7 351l6 -6M340.2 348h8.6M344.5 343.7v8.6M341.5 345l6 6M341.5 351l6 -6M341 348h8.6M345.3 343.7v8.6M342.3 345l6 6M342.3 351l6 -6M341.8 348h8.6M346.1 343.7v8.6M343.1 345l6 6M343.1 351l6 -6M342.6 348h8.6M346.9 343.7v8.6M343.9 345l6 6M343.9 351l6 -6M343.4 348h8.6M347.7 343.7v8.6M344.7 345l6 6M344.7 351l6 -6M344.2 348h8.6M348.5 343.7v8.6M345.5 345l6 6M345.5 351l6 -6M345 348h8.6M349.3 343.7v8.6M346.3 345l6 6M346.3 351l6 -6M345.8 348h8.6M350.1 343.7v8.6M347.1 345l6 6M347.1 351l6 -6M346.6 348h8.6M350.9 343.7v8.6M347.9 345l6 6M347.9 351l6 -6M347.4 348h8.6M351.7 343.7v8.6M348.7 345l6 6M348.7 351l6 -6M348.2 348h8.6M352.5 343.7v8.6M349.5 345l6 6M349.5 351l6 -6M349 348h8.6M353.3 343.7v8.6M350.3 345l6 6M350.3 351l6 -6M349.8 348h8.6M354.1 343.7v8.6M351.1 345l6 6M351.1 351l6 -6M350.6 348h8.6M354.9 343.7v8.6M351.9 345l6 6M351.9 351l6 -6M351.4 348h8.6M355.7 343.7v8.6M352.7 345l6 6M352.7 351l6 -6M352.2 348h8.6M356.5 343.7v8.6M353.5 345l6 6M353.5 351l6 -6M353 348h8.6M357.3 343.7v8.6M354.3 345l6 6M354.3 351l6 -6M353.8 348h8.6M358.1 343.7v8.6M355.1 345l6 6M355.1 351l6 -6M354.6 348h8.6M358.9 343.7v8.6M355.9 345l6 6M355.9 351l6 -6M355.4 348h8.6M359.7 343.7v8.6M356.7 345l6 6M356.7 351l6 -6M356.2 348h8.6M360.5 343.7v8.6M357.5 345l6 6M357.5 351l6 -6M357 348h8.6M361.3 343.7v8.6M358.3 345l6 6M358.3 351l6 -6M357.8 348h8.6M362.1 343.7v8.6M359.1 345l6 6M359.1 351l6 -6M358.6 348h8.6M362.9 343.7v8.6M359.9 345l6 6M359.9 351l6 -6M359.4 348h8.6M363.7 343.7v8.6M360.7 345l6 6M360.7 351l6 -6M360.2 348h8.6M364.5 343.7v8.6M361.5 345l6 6M361.5 351l6 -6M361 348h8.6M365.3 343.7v8.6M362.3 345l6 6M362.3 351l6 -6M361.8 348h8.6M366.1 343.7v8.6M363.1 345l6 6M363.1 351l6 -6M362.6 348h8.6M366.9 343.7v8.6M363.9 345l6 6M363.9 351l6 -6M363.4 348h8.6M367.7 343.7v8.6M364.7 345l6 6M364.7 351l6 -6M364.2 348h8.6M368.5 343.7v8.6M365.5 345l6 6M365.5 351l6 -6M365 348h8.6M369.3 343.7v8.6M366.3 345l6 6M366.3 351l6 -6M365.8 348h8.6M370.1 343.7v8.6M367.1 345l6 6M367.1 351l6 -6M366.6 348h8.6M370.9 343.7v8.6M367.9 345l6 6M367.9 351l6 -6M367.4 348h8.6M371.7 343.7v8.6M368.7 345l6 6M368.7 351l6 -6M368.2 348h8.6M372.5 343.7v8.6M369.5 345l6 6M369.5 351l6 -6M369 348h8.6M373.3 343.7v8.6M370.3 345l6 6M370.3 351l6 -6M369.8 348h8.6M374.1 343.7v8.6M371.1 345l6 6M371.1 351l6 -6M370.6 348h8.6M374.9 343.7v8.6M371.9 345l6 6M371.9 351l6 -6M371.4 348h8.6M375.7 343.7v8.6M372.7 345l6 6M372.7 351l6 -6M372.2 348h8.6M376.5 343.7v8.6M373.5 345l6 6M373.5 351l6 -6M373 348h8.6M377.3 343.7v8.6M374.3 345l6 6M374.3 351l6 -6M373.8 348h8.6M378.1 343.7v8.6M375.1 345l6 6M375.1 351l6 -6M374.6 348h8.6M378.9 343.7v8.6M375.9 345l6 6M375.9 351l6 -6M375.4 348h8.6M379.7 343.7v8.6M376.7 345l6 6M376.7 351l6 -6M376.2 348h8.6M380.5 343.7v8.6M377.5 345l6 6M377.5 351l6 -6M377 348h8.6M381.3 343.7v8.6M378.3 345l6 6M378.3 351l6 -6M377.8 348h8.6M382.1 343.7v8.6M379.1 345l6 6M379.1 351l6 -6M378.6 348h8.6M382.9 343.7v8.6M379.9 345l6 6M379.9 351l6 -6M379.4 348h8.6M383.7 343.7v8.6M380.7 345l6 6M380.7 351l6 -6M380.2 348h8.6M384.5 343.7v8.6M381.5 345l6 6M381.5 351l6 -6M381 348h8.6M385.3 343.7v8.6M382.3 345l6 6M382.3 351l6 -6M381.8 348h8.6M386.1 343.7v8.6M383.1 345l6 6M383.1 351l6 -6M382.6 348h8.6M386.9 343.7v8.6M383.9 345l6 6M383.9 351l6 -6M383.4 348h8.6M387.7 343.7v8.6M384.7 345l6 6M384.7 351l6 -6M384.2 348h8.6M388.5 343.7v8.6M385.5 345l6 6M385.5 351l6 -6M385 348h8.6M389.3 343.7v8.6M386.3 345l6 6M386.3 351l6 -6M385.8 348h8.6M390.1 343.7v8.6M387.1 345l6 6M387.1 351l6 -6M386.6 348h8.6M390.9 343.7v8.6M387.9 345l6 6M387.9 351l6 -6M387.4 348h8.6M391.7 343.7v8.6M388.7 345l6 6M388.7 351l6 -6M388.2 348h8.6M392.5 343.7v8.6M389.5 345l6 6M389.5 351l6 -6M389 348h8.6M393.3 343.7v8.6M390.3 345l6 6M390.3 351l6 -6M389.8 348h8.6M394.1 343.7v8.6M391.1 345l6 6M391.1 351l6 -6M390.6 348h8.6M394.9 343.7v8.6M391.9 345l6 6M391.9 351l6 -6M391.4 348h8.6M395.7 343.7v8.6M392.7 345l6 6M392.7 351l6 -6M392.2 348h8.6M396.5 343.7v8.6M393.5 345l6 6M393.5 351l6 -6M393 348h8.6M397.3 343.7v8.6M394.3 345l6 6M394.3 351l6 -6M393.8 348h8.6M398.1 343.7v8.6M395.1 345l6 6M395.1 351l6 -6M394.6 348h8.6M398.9 343.7v8.6M395.9 345l6 6M395.9 351l6 -6M395.4 348h8.6M399.7 343.7v8.6M396.7 345l6 6M396.7 351l6 -6M396.2 348h8.6M400.5 343.7v8.6M397.5 345l6 6M397.5 351l6 -6M397 348h8.6M401.3 343.7v8.6M398.3 345l6 6M398.3 351l6 -6M397.8 348h8.6M402.1 343.7v8.6M399.1 345l6 6M399.1 351l6 -6M398.6 348h8.6M402.9 343.7v8.6M399.9 345l6 6M399.9 351l6 -6M399.4 348h8.6M403.7 343.7v8.6M400.7 345l6 6M400.7 351l6 -6M400.2 348h8.6M404.5 343.7v8.6M401.5 345l6 6M401.5 351l6 -6M401 348h8.6M405.3 343.7v8.6M402.3 345l6 6M402.3 351l6 -6M401.8 348h8.6M406.1 343.7v8.6M403.1 345l6 6M403.1 351l6 -6M402.6 348h8.6M406.9 343.7v8.6M403.9 345l6 6M403.9 351l6 -6M403.4 348h8.6M407.7 343.7v8.6M404.7 345l6 6M404.7 351l6 -6M404.2 348h8.6M408.5 343.7v8.6M405.5 345l6 6M405.5 351l6 -6M405 348h8.6M409.3 343.7v8.6M406.3 345l6 6M406.3 351l6 -6M405.8 348h8.6M410.1 343.7v8.6M407.1 345l6 6M407.1 351l6 -6M406.6 348h8.6M410.9 343.7v8.6M407.9 345l6 6M407.9 351l6 -6M407.4 348h8.6M411.7 343.7v8.6M408.7 345l6 6M408.7 351l6 -6M408.2 348h8.6M412.5 343.7v8.6M409.5 345l6 6M409.5 351l6 -6M409 348h8.6M413.3 343.7v8.6M410.3 345l6 6M410.3 351l6 -6M409.7 348h8.6M414 343.7v8.6M411 345l6 6M411 351l6 -6M410.5 348h8.6M414.8 343.7v8.6M411.8 345l6 6M411.8 351l6 -6M411.3 348h8.6M415.6 343.7v8.6M412.6 345l6 6M412.6 351l6 -6M412.1 348h8.6M416.4 343.7v8.6M413.4 345l6 6M413.4 351l6 -6M412.9 348h8.6M417.2 343.7v8.6M414.2 345l6 6M414.2 351l6 -6M413.7 348h8.6M418 343.7v8.6M415 345l6 6M415 351l6 -6M414.5 348h8.6M418.8 343.7v8.6M415.8 345l6 6M415.8 351l6 -6M415.3 348h8.6M419.6 343.7v8.6M416.6 345l6 6M416.6 351l6 -6M416.1 348h8.6M420.4 343.7v8.6M417.4 345l6 6M417.4 351l6 -6M416.9 348h8.6M421.2 343.7v8.6M418.2 345l6 6M418.2 351l6 -6M417.7 348h8.6M422 343.7v8.6M419 345l6 6M419 351l6 -6M418.5 348h8.6M422.8 343.7v8.6M419.8 345l6 6M419.8 351l6 -6M419.3 348h8.6M423.6 343.7v8.6M420.6 345l6 6M420.6 351l6 -6M420.1 348h8.6M424.4 343.7v8.6M421.4 345l6 6M421.4 351l6 -6M420.9 348h8.6M425.2 343.7v8.6M422.2 345l6 6M422.2 351l6 -6M421.7 348h8.6M426 343.7v8.6M423 345l6 6M423 351l6 -6M422.5 348h8.6M426.8 343.7v8.6M423.8 345l6 6M423.8 351l6 -6M423.3 348h8.6M427.6 343.7v8.6M424.6 345l6 6M424.6 351l6 -6M424.1 348h8.6M428.4 343.7v8.6M425.4 345l6 6M425.4 351l6 -6M424.9 348h8.6M429.2 343.7v8.6M426.2 345l6 6M426.2 351l6 -6M425.7 348h8.6M430 343.7v8.6M427 345l6 6M427 351l6 -6M426.5 348h8.6M430.8 343.7v8.6M427.8 345l6 6M427.8 351l6 -6M427.3 348h8.6M431.6 343.7v8.6M428.6 345l6 6M428.6 351l6 -6M428.1 348h8.6M432.4 343.7v8.6M429.4 345l6 6M429.4 351l6 -6M428.9 348h8.6M433.2 343.7v8.6M430.2 345l6 6M430.2 351l6 -6M429.7 348h8.6M434 343.7v8.6M431 345l6 6M431 351l6 -6M430.5 348h8.6M434.8 343.7v8.6M431.8 345l6 6M431.8 351l6 -6M431.3 348h8.6M435.6 343.7v8.6M432.6 345l6 6M432.6 351l6 -6M432.1 348h8.6M436.4 343.7v8.6M433.4 345l6 6M433.4 351l6 -6M432.9 348h8.6M437.2 343.7v8.6M434.2 345l6 6M434.2 351l6 -6M433.7 348h8.6M438 343.7v8.6M435 345l6 6M435 351l6 -6M434.5 348h8.6M438.8 343.7v8.6M435.8 345l6 6M435.8 351l6 -6M435.3 348h8.6M439.6 343.7v8.6M436.6 345l6 6M436.6 351l6 -6M436.1 348h8.6M440.4 343.7v8.6M437.4 345l6 6M437.4 351l6 -6M436.9 348h8.6M441.2 343.7v8.6M438.2 345l6 6M438.2 351l6 -6M437.7 348h8.6M442 343.7v8.6M439 345l6 6M439 351l6 -6M438.5 348h8.6M442.8 343.7v8.6M439.8 345l6 6M439.8 351l6 -6M439.3 348h8.6M443.6 343.7v8.6M440.6 345l6 6M440.6 351l6 -6M440.1 348h8.6M444.4 343.7v8.6M441.4 345l6 6M441.4 351l6 -6M440.9 348h8.6M445.2 343.7v8.6M442.2 345l6 6M442.2 351l6 -6M441.7 348h8.6M446 343.7v8.6M443 345l6 6M443 351l6 -6M442.5 348h8.6M446.8 343.7v8.6M443.8 345l6 6M443.8 351l6 -6M443.3 348h8.6M447.6 343.7v8.6M444.6 345l6 6M444.6 351l6 -6M444.1 348h8.6M448.4 343.7v8.6M445.4 345l6 6M445.4 351l6 -6M444.9 348h8.6M449.2 343.7v8.6M446.2 345l6 6M446.2 351l6 -6M445.7 348h8.6M450 343.7v8.6M447 345l6 6M447 351l6 -6M446.5 348h8.6M450.8 343.7v8.6M447.8 345l6 6M447.8 351l6 -6M447.3 348h8.6M451.6 343.7v8.6M448.6 345l6 6M448.6 351l6 -6M448.1 348h8.6M452.4 343.7v8.6M449.4 345l6 6M449.4 351l6 -6M448.9 348h8.6M453.2 343.7v8.6M450.2 345l6 6M450.2 351l6 -6M449.7 348h8.6M454 343.7v8.6M451 345l6 6M451 351l6 -6M450.5 348h8.6M454.8 343.7v8.6M451.8 345l6 6M451.8 351l6 -6M451.3 348h8.6M455.6 343.7v8.6M452.6 345l6 6M452.6 351l6 -6M452.1 348h8.6M456.4 343.7v8.6M453.4 345l6 6M453.4 351l6 -6M452.9 348h8.6M457.2 343.7v8.6M454.2 345l6 6M454.2 351l6 -6M453.7 348h8.6M458 343.7v8.6M455 345l6 6M455 351l6 -6M454.5 348h8.6M458.8 343.7v8.6M455.8 345l6 6M455.8 351l6 -6M455.3 348h8.6M459.6 343.7v8.6M456.6 345l6 6M456.6 351l6 -6M456.1 348h8.6M460.4 343.7v8.6M457.4 345l6 6M457.4 351l6 -6M456.9 348h8.6M461.2 343.7v8.6M458.2 345l6 6M458.2 351l6 -6M457.7 348h8.6M462 343.7v8.6M459 345l6 6M459 351l6 -6M458.5 348h8.6M462.8 343.7v8.6M459.8 345l6 6M459.8 351l6 -6M459.3 348h8.6M463.6 343.7v8.6M460.6 345l6 6M460.6 351l6 -6M460.1 348h8.6M464.4 343.7v8.6M461.4 345l6 6M461.4 351l6 -6M460.9 348h8.6M465.2 343.7v8.6M462.2 345l6 6M462.2 351l6 -6M461.7 348h8.6M466 343.7v8.6M463 345l6 6M463 351l6 -6M462.5 348h8.6M466.8 343.7v8.6M463.8 345l6 6M463.8 351l6 -6M463.3 348h8.6M467.6 343.7v8.6M464.6 345l6 6M464.6 351l6 -6M464.1 348h8.6M468.4 343.7v8.6M465.4 345l6 6M465.4 351l6 -6M464.9 348h8.6M469.2 343.7v8.6M466.2 345l6 6M466.2 351l6 -6M465.7 348h8.6M470 343.7v8.6M467 345l6 6M467 351l6 -6M466.5 348h8.6M470.8 343.7v8.6M467.8 345l6 6M467.8 351l6 -6M467.3 348h8.6M471.6 343.7v8.6M468.6 345l6 6M468.6 351l6 -6M468.1 348h8.6M472.4 343.7v8.6M469.4 345l6 6M469.4 351l6 -6M468.9 348h8.6M473.2 343.7v8.6M470.2 345l6 6M470.2 351l6 -6M469.7 348h8.6M474 343.7v8.6M471 345l6 6M471 351l6 -6M470.5 348h8.6M474.8 343.7v8.6M471.8 345l6 6M471.8 351l6 -6M471.3 348h8.6M475.6 343.7v8.6M472.6 345l6 6M472.6 351l6 -6M472.1 348h8.6M476.4 343.7v8.6M473.4 345l6 6M473.4 351l6 -6M472.9 348h8.6M477.2 343.7v8.6M474.2 345l6 6M474.2 351l6 -6M473.7 348h8.6M478 343.7v8.6M475 345l6 6M475 351l6 -6M474.5 348h8.6M478.8 343.7v8.6M475.8 345l6 6M475.8 351l6 -6M475.3 348h8.6M479.6 343.7v8.6M476.6 345l6 6M476.6 351l6 -6M476.1 348h8.6M480.4 343.7v8.6M477.4 345l6 6M477.4 351l6 -6M476.9 348h8.6M481.2 343.7v8.6M478.2 345l6 6M478.2 351l6 -6M477.7 348h8.6M482 343.7v8.6M479 345l6 6M479 351l6 -6M478.5 348h8.6M482.8 343.7v8.6M479.8 345l6 6M479.8 351l6 -6M479.3 348h8.6M483.6 343.7v8.6M480.6 345l6 6M480.6 351l6 -6M480.1 348h8.6M484.4 343.7v8.6M481.4 345l6 6M481.4 351l6 -6M480.9 348h8.6M485.2 343.7v8.6M482.2 345l6 6M482.2 351l6 -6M481.7 348h8.6M486 343.7v8.6M483 345l6 6M483 351l6 -6M482.5 348h8.6M486.8 343.7v8.6M483.8 345l6 6M483.8 351l6 -6M483.3 348h8.6M487.6 343.7v8.6M484.6 345l6 6M484.6 351l6 -6M484.1 348h8.6M488.4 343.7v8.6M485.4 345l6 6M485.4 351l6 -6M484.9 348h8.6M489.2 343.7v8.6M486.2 345l6 6M486.2 351l6 -6M485.7 348h8.6M490 343.7v8.6M487 345l6 6M487 351l6 -6M486.5 348h8.6M490.8 343.7v8.6M487.8 345l6 6M487.8 351l6 -6M487.3 348h8.6M491.6 343.7v8.6M488.6 345l6 6M488.6 351l6 -6M488.1 348h8.6M492.4 343.7v8.6M489.4 345l6 6M489.4 351l6 -6M488.9 348h8.6M493.2 343.7v8.6M490.2 345l6 6M490.2 351l6 -6M489.6 348h8.6M493.9 343.7v8.6M490.9 345l6 6M490.9 351l6 -6M490.4 348h8.6M494.7 343.7v8.6M491.7 345l6 6M491.7 351l6 -6M491.2 348h8.6M495.5 343.7v8.6M492.5 345l6 6M492.5 351l6 -6M492 348h8.6M496.3 343.7v8.6M493.3 345l6 6M493.3 351l6 -6M492.8 348h8.6M497.1 343.7v8.6M494.1 345l6 6M494.1 351l6 -6M493.6 348h8.6M497.9 343.7v8.6M494.9 345l6 6M494.9 351l6 -6M494.4 348h8.6M498.7 343.7v8.6M495.7 345l6 6M495.7 351l6 -6M495.2 348h8.6M499.5 343.7v8.6M496.5 345l6 6M496.5 351l6 -6M496 348h8.6M500.3 343.7v8.6M497.3 345l6 6M497.3 351l6 -6M496.8 348h8.6M501.1 343.7v8.6M498.1 345l6 6M498.1 351l6 -6M497.6 348h8.6M501.9 343.7v8.6M498.9 345l6 6M498.9 351l6 -6M498.4 348h8.6M502.7 343.7v8.6M499.7 345l6 6M499.7 351l6 -6M499.2 348h8.6M503.5 343.7v8.6M500.5 345l6 6M500.5 351l6 -6M500 348h8.6M504.3 343.7v8.6M501.3 345l6 6M501.3 351l6 -6M500.8 348h8.6M505.1 343.7v8.6M502.1 345l6 6M502.1 351l6 -6M501.6 348h8.6M505.9 343.7v8.6M502.9 345l6 6M502.9 351l6 -6M502.4 348h8.6M506.7 343.7v8.6M503.7 345l6 6M503.7 351l6 -6M503.2 348h8.6M507.5 343.7v8.6M504.5 345l6 6M504.5 351l6 -6M504 348h8.6M508.3 343.7v8.6M505.3 345l6 6M505.3 351l6 -6M504.8 348h8.6M509.1 343.7v8.6M506.1 345l6 6M506.1 351l6 -6M505.6 348h8.6M509.9 343.7v8.6M506.9 345l6 6M506.9 351l6 -6M506.4 348h8.6M510.7 343.7v8.6M507.7 345l6 6M507.7 351l6 -6M507.2 348h8.6M511.5 343.7v8.6M508.5 345l6 6M508.5 351l6 -6M508 348h8.6M512.3 343.7v8.6M509.3 345l6 6M509.3 351l6 -6M508.8 348h8.6M513.1 343.7v8.6M510.1 345l6 6M510.1 351l6 -6M509.6 348h8.6M513.9 343.7v8.6M510.9 345l6 6M510.9 351l6 -6M510.4 348h8.6M514.7 343.7v8.6M511.7 345l6 6M511.7 351l6 -6M511.2 348h8.6M515.5 343.7v8.6M512.5 345l6 6M512.5 351l6 -6M512 348h8.6M516.3 343.7v8.6M513.3 345l6 6M513.3 351l6 -6M512.8 348h8.6M517.1 343.7v8.6M514.1 345l6 6M514.1 351l6 -6M513.6 348h8.6M517.9 343.7v8.6M514.9 345l6 6M514.9 351l6 -6M514.4 348h8.6M518.7 343.7v8.6M515.7 345l6 6M515.7 351l6 -6M515.2 348h8.6M519.5 343.7v8.6M516.5 345l6 6M516.5 351l6 -6M516 348h8.6M520.3 343.7v8.6M517.3 345l6 6M517.3 351l6 -6M516.8 348h8.6M521.1 343.7v8.6M518.1 345l6 6M518.1 351l6 -6M517.6 348h8.6M521.9 343.7v8.6M518.9 345l6 6M518.9 351l6 -6M518.4 348h8.6M522.7 343.7v8.6M519.7 345l6 6M519.7 351l6 -6M519.2 348h8.6M523.5 343.7v8.6M520.5 345l6 6M520.5 351l6 -6M520 348h8.6M524.3 343.7v8.6M521.3 345l6 6M521.3 351l6 -6M520.8 348h8.6M525.1 343.7v8.6M522.1 345l6 6M522.1 351l6 -6M521.6 348h8.6M525.9 343.7v8.6M522.9 345l6 6M522.9 351l6 -6M522.4 348h8.6M526.7 343.7v8.6M523.7 345l6 6M523.7 351l6 -6M523.2 348h8.6M527.5 343.7v8.6M524.5 345l6 6M524.5 351l6 -6M524 348h8.6M528.3 343.7v8.6M525.3 345l6 6M525.3 351l6 -6M524.8 348h8.6M529.1 343.7v8.6M526.1 345l6 6M526.1 351l6 -6M525.6 348h8.6M529.9 343.7v8.6M526.9 345l6 6M526.9 351l6 -6M526.4 348h8.6M530.7 343.7v8.6M527.7 345l6 6M527.7 351l6 -6M527.2 348h8.6M531.5 343.7v8.6M528.5 345l6 6M528.5 351l6 -6M528 348h8.6M532.3 343.7v8.6M529.3 345l6 6M529.3 351l6 -6M528.8 348h8.6M533.1 343.7v8.6M530.1 345l6 6M530.1 351l6 -6M529.6 348h8.6M533.9 343.7v8.6M530.9 345l6 6M530.9 351l6 -6" fill="none" stroke="#ff0000" stroke-width="0.8"/>
<g font-family="'Liberation Sans', Arial, Helvetica, sans-serif" font-size="21.8" fill="#000" stroke="#000" stroke-width="0.3">
<text x="54.5" y="409.6" text-anchor="middle">0</text>
<text x="134.4" y="409.6" text-anchor="middle">0.5</text>
<text x="214.3" y="409.6" text-anchor="middle">1</text>
<text x="294.2" y="409.6" text-anchor="middle">1.5</text>
<text x="374.1" y="409.6" text-anchor="middle">2</text>
<text x="454" y="409.6" text-anchor="middle">2.5</text>
<text x="533.9" y="409.6" text-anchor="middle">3</text>
<text x="49.5" y="355.7" text-anchor="end">1</text>
<text x="49.5" y="314.4" text-anchor="end">2</text>
<text x="49.5" y="273" text-anchor="end">3</text>
<text x="49.5" y="231.7" text-anchor="end">4</text>
<text x="49.5" y="190.4" text-anchor="end">5</text>
<text x="49.5" y="149" text-anchor="end">6</text>
<text x="49.5" y="107.7" text-anchor="end">7</text>
<text x="49.5" y="66.3" text-anchor="end">8</text>
<text x="49.5" y="25" text-anchor="end">9</text>
<text x="294.4" y="433.4" text-anchor="middle">t</text>
<text transform="translate(25.6 200.4) rotate(-90)" text-anchor="middle">event–triggeed signals</text>
</g>
<rect x="92" y="37" width="332" height="147.3" fill="#fff"/>
<path d="M175 184.3v-3.3M175 37v3.3M258 184.3v-3.3M258 37v3.3M341 184.3v-3.3M341 37v3.3M92 167.9h3.3M424 167.9h-3.3M92 135.2h3.3M424 135.2h-3.3M92 102.5h3.3M424 102.5h-3.3M92 69.7h3.3M424 69.7h-3.3" fill="none" stroke="#2a2a2a" stroke-width="1.1"/>
<rect x="92" y="37" width="332" height="147.3" fill="none" stroke="#2a2a2a" stroke-width="1.15"/>
<path d="M95.8 69.7a4.5 4.5 0 1 0 9 0a4.5 4.5 0 1 0 -9 0M108.3 69.7a4.5 4.5 0 1 0 9 0a4.5 4.5 0 1 0 -9 0M124.9 69.7a4.5 4.5 0 1 0 9 0a4.5 4.5 0 1 0 -9 0M141.5 69.7a4.5 4.5 0 1 0 9 0a4.5 4.5 0 1 0 -9 0M153.9 69.7a4.5 4.5 0 1 0 9 0a4.5 4.5 0 1 0 -9 0M178.8 69.7a4.5 4.5 0 1 0 9 0a4.5 4.5 0 1 0 -9 0M207.9 69.7a4.5 4.5 0 1 0 9 0a4.5 4.5 0 1 0 -9 0M245.2 69.7a4.5 4.5 0 1 0 9 0a4.5 4.5 0 1 0 -9 0M286.7 69.7a4.5 4.5 0 1 0 9 0a4.5 4.5 0 1 0 -9 0M402.9 69.7a4.5 4.5 0 1 0 9 0a4.5 4.5 0 1 0 -9 0" fill="none" stroke="#d038d4" stroke-width="1.2"/>
<path d="M241.4 96.1l5.8 9.6h-11.6zM258 96.1l5.8 9.6h-11.6zM270.4 96.1l5.8 9.6h-11.6zM278.8 96.1l5.8 9.6h-11.6zM287 96.1l5.8 9.6h-11.6zM295.4 96.1l5.8 9.6h-11.6zM307.8 96.1l5.8 9.6h-11.6zM316.1 96.1l5.8 9.6h-11.6zM324.4 96.1l5.8 9.6h-11.6zM332.7 96.1l5.8 9.6h-11.6zM341 96.1l5.8 9.6h-11.6zM349.3 96.1l5.8 9.6h-11.6zM357.6 96.1l5.8 9.6h-11.6zM370.1 96.1l5.8 9.6h-11.6zM378.3 96.1l5.8 9.6h-11.6zM386.6 96.1l5.8 9.6h-11.6zM394.9 96.1l5.8 9.6h-11.6zM407.4 96.1l5.8 9.6h-11.6zM419.9 96.1l5.8 9.6h-11.6z" fill="#0000ff" stroke="none"/>
<path d="M109.1 131.5h7.4v7.4h-7.4zM138.1 131.5h7.4v7.4h-7.4zM171.3 131.5h7.4v7.4h-7.4zM208.7 131.5h7.4v7.4h-7.4zM254.3 131.5h7.4v7.4h-7.4zM270.9 131.5h7.4v7.4h-7.4zM324.9 131.5h7.4v7.4h-7.4zM345.6 131.5h7.4v7.4h-7.4zM358.1 131.5h7.4v7.4h-7.4zM370.5 131.5h7.4v7.4h-7.4zM378.8 131.5h7.4v7.4h-7.4zM387.1 131.5h7.4v7.4h-7.4zM395.4 131.5h7.4v7.4h-7.4zM403.7 131.5h7.4v7.4h-7.4zM412 131.5h7.4v7.4h-7.4zM420.3 131.5h7.4v7.4h-7.4z" fill="none" stroke="#00ff00" stroke-width="1.5"/>
<path d="M87.7 167.9h8.6M92 163.6v8.6M89 164.9l6 6M89 170.9l6 -6M96 167.9h8.6M100.3 163.6v8.6M97.3 164.9l6 6M97.3 170.9l6 -6M104.3 167.9h8.6M108.6 163.6v8.6M105.6 164.9l6 6M105.6 170.9l6 -6M112.6 167.9h8.6M116.9 163.6v8.6M113.9 164.9l6 6M113.9 170.9l6 -6M120.9 167.9h8.6M125.2 163.6v8.6M122.2 164.9l6 6M122.2 170.9l6 -6M129.2 167.9h8.6M133.5 163.6v8.6M130.5 164.9l6 6M130.5 170.9l6 -6M137.5 167.9h8.6M141.8 163.6v8.6M138.8 164.9l6 6M138.8 170.9l6 -6M145.8 167.9h8.6M150.1 163.6v8.6M147.1 164.9l6 6M147.1 170.9l6 -6M154.1 167.9h8.6M158.4 163.6v8.6M155.4 164.9l6 6M155.4 170.9l6 -6M162.4 167.9h8.6M166.7 163.6v8.6M163.7 164.9l6 6M163.7 170.9l6 -6M170.7 167.9h8.6M175 163.6v8.6M172 164.9l6 6M172 170.9l6 -6M179 167.9h8.6M183.3 163.6v8.6M180.3 164.9l6 6M180.3 170.9l6 -6M187.3 167.9h8.6M191.6 163.6v8.6M188.6 164.9l6 6M188.6 170.9l6 -6M195.6 167.9h8.6M199.9 163.6v8.6M196.9 164.9l6 6M196.9 170.9l6 -6M203.9 167.9h8.6M208.2 163.6v8.6M205.2 164.9l6 6M205.2 170.9l6 -6M212.2 167.9h8.6M216.5 163.6v8.6M213.5 164.9l6 6M213.5 170.9l6 -6M220.5 167.9h8.6M224.8 163.6v8.6M221.8 164.9l6 6M221.8 170.9l6 -6M228.8 167.9h8.6M233.1 163.6v8.6M230.1 164.9l6 6M230.1 170.9l6 -6M237.1 167.9h8.6M241.4 163.6v8.6M238.4 164.9l6 6M238.4 170.9l6 -6M245.4 167.9h8.6M249.7 163.6v8.6M246.7 164.9l6 6M246.7 170.9l6 -6M253.7 167.9h8.6M258 163.6v8.6M255 164.9l6 6M255 170.9l6 -6M262 167.9h8.6M266.3 163.6v8.6M263.3 164.9l6 6M263.3 170.9l6 -6M270.3 167.9h8.6M274.6 163.6v8.6M271.6 164.9l6 6M271.6 170.9l6 -6M278.6 167.9h8.6M282.9 163.6v8.6M279.9 164.9l6 6M279.9 170.9l6 -6M286.9 167.9h8.6M291.2 163.6v8.6M288.2 164.9l6 6M288.2 170.9l6 -6M295.2 167.9h8.6M299.5 163.6v8.6M296.5 164.9l6 6M296.5 170.9l6 -6M303.5 167.9h8.6M307.8 163.6v8.6M304.8 164.9l6 6M304.8 170.9l6 -6M311.8 167.9h8.6M316.1 163.6v8.6M313.1 164.9l6 6M313.1 170.9l6 -6M320.1 167.9h8.6M324.4 163.6v8.6M321.4 164.9l6 6M321.4 170.9l6 -6M328.4 167.9h8.6M332.7 163.6v8.6M329.7 164.9l6 6M329.7 170.9l6 -6M336.7 167.9h8.6M341 163.6v8.6M338 164.9l6 6M338 170.9l6 -6M345 167.9h8.6M349.3 163.6v8.6M346.3 164.9l6 6M346.3 170.9l6 -6M353.3 167.9h8.6M357.6 163.6v8.6M354.6 164.9l6 6M354.6 170.9l6 -6M361.6 167.9h8.6M365.9 163.6v8.6M362.9 164.9l6 6M362.9 170.9l6 -6M369.9 167.9h8.6M374.2 163.6v8.6M371.2 164.9l6 6M371.2 170.9l6 -6M378.2 167.9h8.6M382.5 163.6v8.6M379.5 164.9l6 6M379.5 170.9l6 -6M386.5 167.9h8.6M390.8 163.6v8.6M387.8 164.9l6 6M387.8 170.9l6 -6M394.8 167.9h8.6M399.1 163.6v8.6M396.1 164.9l6 6M396.1 170.9l6 -6M403.1 167.9h8.6M407.4 163.6v8.6M404.4 164.9l6 6M404.4 170.9l6 -6M411.4 167.9h8.6M415.7 163.6v8.6M412.7 164.9l6 6M412.7 170.9l6 -6M419.7 167.9h8.6M424 163.6v8.6M421 164.9l6 6M421 170.9l6 -6" fill="none" stroke="#ff0000" stroke-width="1.0"/>
<g font-family="'Liberation Sans', Arial, Helvetica, sans-serif" font-size="18.7" fill="#000" stroke="#000" stroke-width="0.25">
<text x="92" y="205.6" text-anchor="middle">0.3</text>
<text x="175" y="205.6" text-anchor="middle">0.35</text>
<text x="258" y="205.6" text-anchor="middle">0.4</text>
<text x="341" y="205.6" text-anchor="middle">0.45</text>
<text x="424" y="205.6" text-anchor="middle">0.5</text>
<text x="87.7" y="174.6" text-anchor="end">1</text>
<text x="87.7" y="141.9" text-anchor="end">2</text>
<text x="87.7" y="109.2" text-anchor="end">3</text>
<text x="87.7" y="76.4" text-anchor="end">4</text>
<text x="87.7" y="43.7" text-anchor="end">5</text>
</g>
<rect x="447.5" y="24.9" width="78.5" height="148.6" fill="#fff" stroke="#2a2a2a" stroke-width="1.15"/>
<path d="M475 45.3h8.6M479.3 41v8.6M476.3 42.3l6 6M476.3 48.3l6 -6" fill="none" stroke="#ff0000" stroke-width="1.0"/>
<path d="M475.7 77.9h7.4v7.4h-7.4z" fill="none" stroke="#2ef02e" stroke-width="1.2"/>
<path d="M479.4 111.2l5.8 9.6h-11.6z" fill="#0000ff"/>
<path d="M474.9 153.5a4.5 4.5 0 1 0 9 0a4.5 4.5 0 1 0 -9 0" fill="none" stroke="#d038d4" stroke-width="1.2"/>
<g font-family="'Liberation Sans', Arial, Helvetica, sans-serif" fill="#000" stroke="#000" stroke-width="0.2">
<text x="506.8" y="50.8" font-size="19.5">t</text>
<text x="512.4" y="40.7" font-size="13.6">1</text>
<text x="511.9" y="59.7" font-size="13.8">k</text>
<text x="506.8" y="87.1" font-size="19.5">t</text>
<text x="512.4" y="77" font-size="13.6">2</text>
<text x="511.9" y="96" font-size="13.8">k</text>
<text x="506.8" y="123.1" font-size="19.5">t</text>
<text x="512.4" y="113" font-size="13.6">3</text>
<text x="511.9" y="132" font-size="13.8">k</text>
<text x="506.8" y="159" font-size="19.5">t</text>
<text x="512.4" y="148.9" font-size="13.6">4</text>
<text x="511.9" y="167.9" font-size="13.8">k</text>
</g>
</svg>
</body></html>
